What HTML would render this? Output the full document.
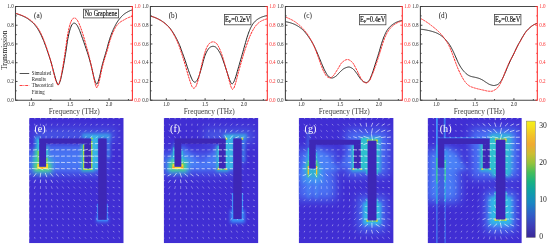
<!DOCTYPE html>
<html><head><meta charset="utf-8"><title>Figure</title>
<style>html,body{margin:0;padding:0;background:#fff}svg{display:block}</style></head>
<body>
<svg width="550" height="248" viewBox="0 0 550 248" style="display:block">
<defs>
<filter id="b1" x="-50%" y="-50%" width="200%" height="200%"><feGaussianBlur stdDeviation="0.6"/></filter>
<filter id="b2" x="-50%" y="-50%" width="200%" height="200%"><feGaussianBlur stdDeviation="1.4"/></filter>
<filter id="b3" x="-50%" y="-50%" width="200%" height="200%"><feGaussianBlur stdDeviation="2.6"/></filter>
<filter id="b5" x="-50%" y="-50%" width="200%" height="200%"><feGaussianBlur stdDeviation="5"/></filter>
<filter id="soft" x="-5%" y="-5%" width="110%" height="110%"><feGaussianBlur stdDeviation="0.35"/></filter>
<linearGradient id="par" x1="0" y1="1" x2="0" y2="0">
<stop offset="0.000" stop-color="rgb(58, 40, 150)"/>
<stop offset="0.100" stop-color="rgb(62, 62, 185)"/>
<stop offset="0.200" stop-color="rgb(48, 95, 200)"/>
<stop offset="0.300" stop-color="rgb(25, 135, 195)"/>
<stop offset="0.400" stop-color="rgb(15, 160, 165)"/>
<stop offset="0.480" stop-color="rgb(25, 178, 130)"/>
<stop offset="0.560" stop-color="rgb(70, 190, 90)"/>
<stop offset="0.640" stop-color="rgb(150, 195, 60)"/>
<stop offset="0.720" stop-color="rgb(205, 190, 50)"/>
<stop offset="0.800" stop-color="rgb(240, 170, 50)"/>
<stop offset="0.880" stop-color="rgb(242, 195, 40)"/>
<stop offset="0.950" stop-color="rgb(245, 225, 30)"/>
<stop offset="1.000" stop-color="rgb(245, 240, 25)"/>
</linearGradient>
<pattern id="arr" width="6.4" height="6.15" patternUnits="userSpaceOnUse" patternTransform="translate(1.5,0.5)"><path d="M2.2,3.6 L4.2,2.9" stroke="#fff" stroke-width="0.75" stroke-opacity="0.62" stroke-linecap="round"/></pattern>
</defs>
<rect width="550" height="248" fill="#fff"/>
<g filter="url(#soft)">
<g>
<path d="M15.60,13.50 L16.09,13.63 L16.58,13.77 L17.07,13.92 L17.55,14.07 L18.04,14.23 L18.53,14.39 L19.02,14.56 L19.51,14.74 L20.00,14.92 L20.49,15.10 L20.98,15.29 L21.46,15.48 L21.95,15.68 L22.44,15.89 L22.93,16.11 L23.42,16.33 L23.91,16.56 L24.40,16.80 L24.89,17.04 L25.37,17.30 L25.86,17.57 L26.35,17.84 L26.84,18.14 L27.33,18.45 L27.82,18.78 L28.31,19.13 L28.79,19.48 L29.28,19.85 L29.77,20.22 L30.26,20.61 L30.75,21.00 L31.24,21.40 L31.73,21.82 L32.22,22.25 L32.70,22.70 L33.19,23.17 L33.68,23.66 L34.17,24.18 L34.66,24.72 L35.15,25.30 L35.64,25.91 L36.13,26.55 L36.61,27.22 L37.10,27.92 L37.59,28.64 L38.08,29.40 L38.57,30.21 L39.06,31.06 L39.55,31.96 L40.04,32.88 L40.52,33.84 L41.01,34.84 L41.50,35.88 L41.99,36.95 L42.48,38.06 L42.97,39.20 L43.46,40.37 L43.94,41.56 L44.43,42.79 L44.92,44.07 L45.41,45.41 L45.90,46.78 L46.39,48.18 L46.88,49.60 L47.37,51.02 L47.85,52.45 L48.34,53.87 L48.83,55.30 L49.32,56.74 L49.81,58.22 L50.30,59.73 L50.79,61.30 L51.28,62.93 L51.76,64.68 L52.25,66.49 L52.74,68.34 L53.23,70.19 L53.72,71.99 L54.21,73.74 L54.70,75.56 L55.18,77.38 L55.67,79.10 L56.16,80.62 L56.65,81.86 L57.14,83.08 L57.63,84.13 L58.12,84.74 L58.61,84.64 L59.09,83.82 L59.58,82.61 L60.07,81.31 L60.56,79.75 L61.05,77.81 L61.54,75.63 L62.03,73.29 L62.52,70.93 L63.00,68.47 L63.49,65.84 L63.98,63.06 L64.47,60.19 L64.96,57.26 L65.45,54.32 L65.94,51.23 L66.43,47.90 L66.91,44.54 L67.40,41.35 L67.89,38.55 L68.38,36.16 L68.87,33.92 L69.36,31.85 L69.85,30.01 L70.33,28.45 L70.82,27.16 L71.31,25.98 L71.80,24.97 L72.29,24.22 L72.78,23.75 L73.27,23.37 L73.76,23.13 L74.24,23.12 L74.73,23.26 L75.22,23.50 L75.71,23.80 L76.20,24.16 L76.69,24.72 L77.18,25.48 L77.67,26.37 L78.15,27.32 L78.64,28.28 L79.13,29.35 L79.62,30.52 L80.11,31.79 L80.60,33.12 L81.09,34.47 L81.57,35.83 L82.06,37.17 L82.55,38.51 L83.04,39.88 L83.53,41.27 L84.02,42.68 L84.51,44.10 L85.00,45.52 L85.48,46.95 L85.97,48.38 L86.46,49.79 L86.95,51.22 L87.44,52.67 L87.93,54.17 L88.42,55.73 L88.91,57.36 L89.39,59.07 L89.88,60.83 L90.37,62.65 L90.86,64.51 L91.35,66.41 L91.84,68.37 L92.33,70.49 L92.82,72.66 L93.30,74.77 L93.79,76.74 L94.28,78.50 L94.77,80.20 L95.26,81.69 L95.75,82.81 L96.24,83.78 L96.72,84.20 L97.21,83.70 L97.70,82.70 L98.19,81.54 L98.68,80.00 L99.17,78.23 L99.66,76.40 L100.15,74.35 L100.63,72.12 L101.12,69.83 L101.61,67.61 L102.10,65.61 L102.59,63.75 L103.08,61.97 L103.57,60.25 L104.06,58.58 L104.54,56.94 L105.03,55.31 L105.52,53.68 L106.01,52.03 L106.50,50.35 L106.99,48.62 L107.48,46.82 L107.96,45.00 L108.45,43.20 L108.94,41.44 L109.43,39.78 L109.92,38.24 L110.41,36.82 L110.90,35.45 L111.39,34.13 L111.87,32.87 L112.36,31.65 L112.85,30.50 L113.34,29.40 L113.83,28.35 L114.32,27.36 L114.81,26.39 L115.30,25.45 L115.78,24.54 L116.27,23.66 L116.76,22.82 L117.25,22.02 L117.74,21.26 L118.23,20.54 L118.72,19.87 L119.21,19.24 L119.69,18.64 L120.18,18.05 L120.67,17.48 L121.16,16.93 L121.65,16.40 L122.14,15.90 L122.63,15.42 L123.11,14.97 L123.60,14.54 L124.09,14.15 L124.58,13.79 L125.07,13.45 L125.56,13.14 L126.05,12.83 L126.54,12.53 L127.02,12.24 L127.51,11.95 L128.00,11.68 L128.49,11.42 L128.98,11.18 L129.47,10.95 L129.96,10.74 L130.45,10.55 L130.93,10.38 L131.42,10.23 L131.91,10.10 L132.40,10.00" fill="none" stroke="#222" stroke-width="1.0"/>
<path d="M15.60,13.30 L16.09,13.42 L16.58,13.55 L17.07,13.69 L17.55,13.83 L18.04,13.98 L18.53,14.14 L19.02,14.30 L19.51,14.47 L20.00,14.64 L20.49,14.81 L20.98,14.99 L21.46,15.18 L21.95,15.37 L22.44,15.57 L22.93,15.77 L23.42,15.99 L23.91,16.21 L24.40,16.44 L24.89,16.68 L25.37,16.92 L25.86,17.17 L26.35,17.44 L26.84,17.71 L27.33,18.00 L27.82,18.30 L28.31,18.62 L28.79,18.95 L29.28,19.29 L29.77,19.63 L30.26,19.99 L30.75,20.36 L31.24,20.74 L31.73,21.14 L32.22,21.55 L32.70,21.97 L33.19,22.42 L33.68,22.88 L34.17,23.37 L34.66,23.89 L35.15,24.44 L35.64,25.02 L36.13,25.64 L36.61,26.28 L37.10,26.94 L37.59,27.63 L38.08,28.36 L38.57,29.13 L39.06,29.94 L39.55,30.80 L40.04,31.69 L40.52,32.63 L41.01,33.61 L41.50,34.64 L41.99,35.71 L42.48,36.82 L42.97,37.97 L43.46,39.15 L43.94,40.36 L44.43,41.60 L44.92,42.89 L45.41,44.23 L45.90,45.61 L46.39,47.04 L46.88,48.49 L47.37,49.97 L47.85,51.48 L48.34,53.01 L48.83,54.57 L49.32,56.17 L49.81,57.81 L50.30,59.50 L50.79,61.23 L51.28,63.03 L51.76,64.95 L52.25,66.95 L52.74,68.98 L53.23,70.99 L53.72,72.93 L54.21,74.78 L54.70,76.67 L55.18,78.53 L55.67,80.24 L56.16,81.67 L56.65,82.84 L57.14,83.97 L57.63,84.78 L58.12,84.98 L58.61,84.44 L59.09,83.39 L59.58,82.09 L60.07,80.68 L60.56,78.82 L61.05,76.57 L61.54,74.07 L62.03,71.46 L62.52,68.83 L63.00,65.99 L63.49,62.96 L63.98,59.78 L64.47,56.53 L64.96,53.26 L65.45,50.01 L65.94,46.56 L66.43,42.98 L66.91,39.48 L67.40,36.26 L67.89,33.53 L68.38,31.07 L68.87,28.78 L69.36,26.70 L69.85,24.89 L70.33,23.41 L70.82,22.10 L71.31,20.91 L71.80,19.92 L72.29,19.20 L72.78,18.78 L73.27,18.44 L73.76,18.17 L74.24,18.02 L74.73,18.02 L75.22,18.21 L75.71,18.53 L76.20,18.94 L76.69,19.38 L77.18,20.01 L77.67,20.82 L78.15,21.75 L78.64,22.75 L79.13,23.78 L79.62,24.89 L80.11,26.11 L80.60,27.41 L81.09,28.79 L81.57,30.22 L82.06,31.68 L82.55,33.16 L83.04,34.69 L83.53,36.30 L84.02,37.97 L84.51,39.68 L85.00,41.41 L85.48,43.16 L85.97,44.90 L86.46,46.64 L86.95,48.37 L87.44,50.12 L87.93,51.90 L88.42,53.73 L88.91,55.63 L89.39,57.59 L89.88,59.63 L90.37,61.72 L90.86,63.87 L91.35,66.05 L91.84,68.26 L92.33,70.52 L92.82,72.91 L93.30,75.33 L93.79,77.69 L94.28,79.92 L94.77,82.09 L95.26,84.19 L95.75,85.86 L96.24,87.16 L96.72,87.80 L97.21,87.27 L97.70,86.22 L98.19,84.96 L98.68,83.27 L99.17,81.34 L99.66,79.36 L100.15,77.19 L100.63,74.82 L101.12,72.40 L101.61,70.02 L102.10,67.82 L102.59,65.87 L103.08,64.03 L103.57,62.29 L104.06,60.61 L104.54,58.98 L105.03,57.39 L105.52,55.82 L106.01,54.26 L106.50,52.67 L106.99,51.06 L107.48,49.39 L107.96,47.67 L108.45,45.91 L108.94,44.16 L109.43,42.44 L109.92,40.80 L110.41,39.27 L110.90,37.85 L111.39,36.50 L111.87,35.21 L112.36,33.99 L112.85,32.84 L113.34,31.73 L113.83,30.65 L114.32,29.60 L114.81,28.60 L115.30,27.68 L115.78,26.87 L116.27,26.16 L116.76,25.52 L117.25,24.93 L117.74,24.38 L118.23,23.86 L118.72,23.39 L119.21,22.95 L119.69,22.54 L120.18,22.16 L120.67,21.82 L121.16,21.50 L121.65,21.20 L122.14,20.92 L122.63,20.65 L123.11,20.39 L123.60,20.13 L124.09,19.86 L124.58,19.59 L125.07,19.31 L125.56,19.03 L126.05,18.76 L126.54,18.50 L127.02,18.25 L127.51,18.01 L128.00,17.80 L128.49,17.60 L128.98,17.40 L129.47,17.22 L129.96,17.04 L130.45,16.87 L130.93,16.71 L131.42,16.56 L131.91,16.42 L132.40,16.30" fill="none" stroke="#f22" stroke-width="1.0" stroke-dasharray="2.4 0.6"/>
<path d="M15.5,6.1 V100.2 H132.4" fill="none" stroke="#484848" stroke-width="1.1"/>
<path d="M15.5,6.5 H132.4" fill="none" stroke="#484848" stroke-width="1.1"/>
<path d="M132.4,6.1 V100.60000000000001" fill="none" stroke="#f22" stroke-width="1.0"/>
<path d="M15.5,100.20 h2.0 M15.5,90.83 h1.2 M15.5,81.46 h2.0 M15.5,72.09 h1.2 M15.5,62.72 h2.0 M15.5,53.35 h1.2 M15.5,43.98 h2.0 M15.5,34.61 h1.2 M15.5,25.24 h2.0 M15.5,15.87 h1.2 M15.5,6.50 h2.0 M31.42,100.2 v-2.0 M50.82,100.2 v-1.2 M70.22,100.2 v-2.0 M89.62,100.2 v-1.2 M109.02,100.2 v-2.0 M128.42,100.2 v-1.2" stroke="#333" stroke-width="0.9" fill="none"/>
<path d="M132.4,100.20 h-2.0 M132.4,90.83 h-1.2 M132.4,81.46 h-2.0 M132.4,72.09 h-1.2 M132.4,62.72 h-2.0 M132.4,53.35 h-1.2 M132.4,43.98 h-2.0 M132.4,34.61 h-1.2 M132.4,25.24 h-2.0 M132.4,15.87 h-1.2 M132.4,6.50 h-2.0" stroke="#f22" stroke-width="0.7" fill="none"/>
<text x="13.7" y="101.50" font-family='"Liberation Serif", serif' font-size="5.1" fill="#333" text-anchor="end">0.0</text>
<text x="134.3" y="101.50" font-family='"Liberation Serif", serif' font-size="5.1" fill="#f33" text-anchor="start">0.0</text>
<text x="13.7" y="82.84" font-family='"Liberation Serif", serif' font-size="5.1" fill="#333" text-anchor="end">0.2</text>
<text x="134.3" y="82.84" font-family='"Liberation Serif", serif' font-size="5.1" fill="#f33" text-anchor="start">0.2</text>
<text x="13.7" y="64.18" font-family='"Liberation Serif", serif' font-size="5.1" fill="#333" text-anchor="end">0.4</text>
<text x="134.3" y="64.18" font-family='"Liberation Serif", serif' font-size="5.1" fill="#f33" text-anchor="start">0.4</text>
<text x="13.7" y="45.52" font-family='"Liberation Serif", serif' font-size="5.1" fill="#333" text-anchor="end">0.6</text>
<text x="134.3" y="45.52" font-family='"Liberation Serif", serif' font-size="5.1" fill="#f33" text-anchor="start">0.6</text>
<text x="13.7" y="26.86" font-family='"Liberation Serif", serif' font-size="5.1" fill="#333" text-anchor="end">0.8</text>
<text x="134.3" y="26.86" font-family='"Liberation Serif", serif' font-size="5.1" fill="#f33" text-anchor="start">0.8</text>
<text x="13.7" y="8.20" font-family='"Liberation Serif", serif' font-size="5.1" fill="#333" text-anchor="end">1.0</text>
<text x="134.3" y="8.20" font-family='"Liberation Serif", serif' font-size="5.1" fill="#f33" text-anchor="start">1.0</text>
<text x="31.42" y="106.10000000000001" font-family='"Liberation Serif", serif' font-size="5.1" fill="#222" text-anchor="middle">1.0</text>
<text x="70.22" y="106.10000000000001" font-family='"Liberation Serif", serif' font-size="5.1" fill="#222" text-anchor="middle">1.5</text>
<text x="109.02" y="106.10000000000001" font-family='"Liberation Serif", serif' font-size="5.1" fill="#222" text-anchor="middle">2.0</text>
<text x="74.30" y="114.0" font-family='"Liberation Serif", serif' font-size="7.4" fill="#444" text-anchor="middle">Frequency (THz)</text>
<text x="38.00" y="17.6" font-family='"Liberation Serif", serif' font-size="7.2" fill="#111" text-anchor="middle">(a)</text>
<rect x="83.4" y="9.2" width="35.2" height="8.7" fill="#fff" stroke="#444" stroke-width="0.8"/>
<text transform="translate(101.0,16.05) scale(0.845,1)" font-family='"Liberation Serif", serif' font-size="7.2" fill="#111" stroke="#111" stroke-width="0.15" text-anchor="middle">No Graphene</text>
</g>
<g>
<path d="M150.60,16.10 L151.09,16.24 L151.57,16.38 L152.06,16.54 L152.55,16.70 L153.04,16.86 L153.52,17.04 L154.01,17.21 L154.50,17.40 L154.98,17.59 L155.47,17.78 L155.96,17.98 L156.44,18.19 L156.93,18.40 L157.42,18.62 L157.91,18.85 L158.39,19.09 L158.88,19.33 L159.37,19.59 L159.85,19.85 L160.34,20.12 L160.83,20.40 L161.31,20.69 L161.80,20.99 L162.29,21.31 L162.78,21.64 L163.26,21.98 L163.75,22.34 L164.24,22.70 L164.72,23.08 L165.21,23.47 L165.70,23.87 L166.18,24.28 L166.67,24.70 L167.16,25.14 L167.65,25.60 L168.13,26.08 L168.62,26.58 L169.11,27.11 L169.59,27.68 L170.08,28.29 L170.57,28.94 L171.06,29.63 L171.54,30.33 L172.03,31.04 L172.52,31.77 L173.00,32.52 L173.49,33.30 L173.98,34.09 L174.46,34.91 L174.95,35.76 L175.44,36.63 L175.93,37.51 L176.41,38.42 L176.90,39.35 L177.39,40.31 L177.87,41.30 L178.36,42.33 L178.85,43.40 L179.33,44.52 L179.82,45.73 L180.31,47.02 L180.80,48.36 L181.28,49.74 L181.77,51.11 L182.26,52.45 L182.74,53.78 L183.23,55.10 L183.72,56.42 L184.21,57.76 L184.69,59.12 L185.18,60.52 L185.67,61.97 L186.15,63.45 L186.64,64.95 L187.13,66.44 L187.61,67.89 L188.10,69.29 L188.59,70.67 L189.08,72.04 L189.56,73.38 L190.05,74.68 L190.54,75.91 L191.02,77.05 L191.51,78.19 L192.00,79.31 L192.48,80.28 L192.97,80.97 L193.46,81.45 L193.95,81.86 L194.43,82.13 L194.92,82.19 L195.41,82.02 L195.89,81.67 L196.38,81.22 L196.87,80.69 L197.35,79.89 L197.84,78.87 L198.33,77.71 L198.82,76.47 L199.30,75.19 L199.79,73.72 L200.28,72.10 L200.76,70.39 L201.25,68.64 L201.74,66.91 L202.23,65.21 L202.71,63.42 L203.20,61.57 L203.69,59.73 L204.17,57.99 L204.66,56.44 L205.15,55.13 L205.63,53.94 L206.12,52.84 L206.61,51.82 L207.10,50.91 L207.58,50.10 L208.07,49.41 L208.56,48.78 L209.04,48.20 L209.53,47.69 L210.02,47.28 L210.50,47.00 L210.99,46.79 L211.48,46.60 L211.97,46.45 L212.45,46.35 L212.94,46.30 L213.43,46.33 L213.91,46.42 L214.40,46.56 L214.89,46.74 L215.37,46.94 L215.86,47.22 L216.35,47.66 L216.84,48.22 L217.32,48.87 L217.81,49.54 L218.30,50.21 L218.78,50.94 L219.27,51.73 L219.76,52.58 L220.25,53.48 L220.73,54.45 L221.22,55.48 L221.71,56.63 L222.19,57.89 L222.68,59.23 L223.17,60.62 L223.65,62.02 L224.14,63.40 L224.63,64.82 L225.12,66.27 L225.60,67.75 L226.09,69.23 L226.58,70.72 L227.06,72.19 L227.55,73.70 L228.04,75.24 L228.52,76.75 L229.01,78.19 L229.50,79.50 L229.99,80.73 L230.47,81.87 L230.96,82.74 L231.45,83.41 L231.93,83.86 L232.42,83.79 L232.91,83.30 L233.39,82.67 L233.88,81.79 L234.37,80.65 L234.86,79.38 L235.34,78.05 L235.83,76.55 L236.32,74.92 L236.80,73.22 L237.29,71.48 L237.78,69.76 L238.27,68.10 L238.75,66.43 L239.24,64.75 L239.73,63.07 L240.21,61.37 L240.70,59.67 L241.19,57.97 L241.67,56.26 L242.16,54.55 L242.65,52.83 L243.14,51.11 L243.62,49.37 L244.11,47.63 L244.60,45.90 L245.08,44.21 L245.57,42.51 L246.06,40.80 L246.54,39.11 L247.03,37.47 L247.52,35.92 L248.01,34.48 L248.49,33.14 L248.98,31.84 L249.47,30.60 L249.95,29.43 L250.44,28.33 L250.93,27.33 L251.42,26.42 L251.90,25.55 L252.39,24.74 L252.88,23.99 L253.36,23.30 L253.85,22.68 L254.34,22.12 L254.82,21.60 L255.31,21.12 L255.80,20.67 L256.29,20.26 L256.77,19.88 L257.26,19.53 L257.75,19.20 L258.23,18.89 L258.72,18.59 L259.21,18.31 L259.69,18.04 L260.18,17.79 L260.67,17.56 L261.16,17.34 L261.64,17.14 L262.13,16.95 L262.62,16.78 L263.10,16.61 L263.59,16.44 L264.08,16.29 L264.56,16.15 L265.05,16.01 L265.54,15.89 L266.03,15.78 L266.51,15.68 L267.00,15.60" fill="none" stroke="#222" stroke-width="1.0"/>
<path d="M150.60,16.10 L151.09,16.23 L151.57,16.37 L152.06,16.52 L152.55,16.67 L153.04,16.84 L153.52,17.01 L154.01,17.19 L154.50,17.38 L154.98,17.58 L155.47,17.78 L155.96,17.98 L156.44,18.20 L156.93,18.42 L157.42,18.66 L157.91,18.91 L158.39,19.17 L158.88,19.44 L159.37,19.72 L159.85,20.00 L160.34,20.29 L160.83,20.59 L161.31,20.90 L161.80,21.21 L162.29,21.54 L162.78,21.88 L163.26,22.24 L163.75,22.60 L164.24,22.98 L164.72,23.37 L165.21,23.78 L165.70,24.20 L166.18,24.63 L166.67,25.08 L167.16,25.55 L167.65,26.04 L168.13,26.55 L168.62,27.08 L169.11,27.62 L169.59,28.20 L170.08,28.81 L170.57,29.45 L171.06,30.12 L171.54,30.82 L172.03,31.54 L172.52,32.31 L173.00,33.12 L173.49,33.97 L173.98,34.85 L174.46,35.77 L174.95,36.71 L175.44,37.67 L175.93,38.67 L176.41,39.69 L176.90,40.75 L177.39,41.85 L177.87,42.98 L178.36,44.16 L178.85,45.38 L179.33,46.67 L179.82,48.03 L180.31,49.44 L180.80,50.88 L181.28,52.35 L181.77,53.81 L182.26,55.30 L182.74,56.82 L183.23,58.36 L183.72,59.93 L184.21,61.52 L184.69,63.14 L185.18,64.82 L185.67,66.55 L186.15,68.29 L186.64,70.03 L187.13,71.73 L187.61,73.38 L188.10,75.03 L188.59,76.66 L189.08,78.27 L189.56,79.82 L190.05,81.28 L190.54,82.68 L191.02,84.10 L191.51,85.44 L192.00,86.53 L192.48,87.23 L192.97,87.81 L193.46,88.20 L193.95,88.29 L194.43,88.06 L194.92,87.64 L195.41,87.11 L195.89,86.41 L196.38,85.37 L196.87,84.05 L197.35,82.56 L197.84,81.01 L198.33,79.39 L198.82,77.53 L199.30,75.48 L199.79,73.33 L200.28,71.14 L200.76,69.00 L201.25,66.94 L201.74,64.82 L202.23,62.66 L202.71,60.53 L203.20,58.50 L203.69,56.61 L204.17,54.92 L204.66,53.30 L205.15,51.74 L205.63,50.27 L206.12,48.94 L206.61,47.78 L207.10,46.83 L207.58,45.98 L208.07,45.19 L208.56,44.47 L209.04,43.86 L209.53,43.36 L210.02,42.99 L210.50,42.69 L210.99,42.42 L211.48,42.18 L211.97,41.99 L212.45,41.86 L212.94,41.80 L213.43,41.83 L213.91,41.94 L214.40,42.12 L214.89,42.35 L215.37,42.62 L215.86,42.91 L216.35,43.27 L216.84,43.81 L217.32,44.50 L217.81,45.31 L218.30,46.18 L218.78,47.09 L219.27,48.03 L219.76,49.08 L220.25,50.24 L220.73,51.49 L221.22,52.80 L221.71,54.16 L222.19,55.56 L222.68,57.06 L223.17,58.64 L223.65,60.29 L224.14,61.99 L224.63,63.70 L225.12,65.40 L225.60,67.14 L226.09,68.91 L226.58,70.71 L227.06,72.52 L227.55,74.34 L228.04,76.14 L228.52,77.98 L229.01,79.85 L229.50,81.69 L229.99,83.45 L230.47,85.07 L230.96,86.70 L231.45,88.02 L231.93,88.82 L232.42,89.29 L232.91,89.15 L233.39,88.67 L233.88,88.02 L234.37,86.89 L234.86,85.41 L235.34,83.87 L235.83,82.25 L236.32,80.47 L236.80,78.59 L237.29,76.66 L237.78,74.73 L238.27,72.86 L238.75,71.09 L239.24,69.33 L239.73,67.58 L240.21,65.84 L240.70,64.11 L241.19,62.40 L241.67,60.70 L242.16,59.03 L242.65,57.37 L243.14,55.75 L243.62,54.15 L244.11,52.59 L244.60,51.06 L245.08,49.57 L245.57,48.11 L246.06,46.69 L246.54,45.29 L247.03,43.91 L247.52,42.54 L248.01,41.17 L248.49,39.82 L248.98,38.52 L249.47,37.27 L249.95,36.11 L250.44,35.01 L250.93,33.96 L251.42,32.96 L251.90,32.00 L252.39,31.08 L252.88,30.21 L253.36,29.38 L253.85,28.58 L254.34,27.80 L254.82,27.07 L255.31,26.38 L255.80,25.74 L256.29,25.17 L256.77,24.62 L257.26,24.10 L257.75,23.62 L258.23,23.16 L258.72,22.75 L259.21,22.37 L259.69,22.02 L260.18,21.70 L260.67,21.39 L261.16,21.11 L261.64,20.84 L262.13,20.59 L262.62,20.37 L263.10,20.16 L263.59,19.96 L264.08,19.77 L264.56,19.59 L265.05,19.42 L265.54,19.27 L266.03,19.13 L266.51,19.01 L267.00,18.90" fill="none" stroke="#f22" stroke-width="1.0" stroke-dasharray="2.4 0.6"/>
<path d="M150.4,6.1 V100.2 H267.3" fill="none" stroke="#484848" stroke-width="1.1"/>
<path d="M150.4,6.5 H267.3" fill="none" stroke="#484848" stroke-width="1.1"/>
<path d="M267.3,6.1 V100.60000000000001" fill="none" stroke="#f22" stroke-width="1.0"/>
<path d="M150.4,100.20 h2.0 M150.4,90.83 h1.2 M150.4,81.46 h2.0 M150.4,72.09 h1.2 M150.4,62.72 h2.0 M150.4,53.35 h1.2 M150.4,43.98 h2.0 M150.4,34.61 h1.2 M150.4,25.24 h2.0 M150.4,15.87 h1.2 M150.4,6.50 h2.0 M166.32,100.2 v-2.0 M185.72,100.2 v-1.2 M205.12,100.2 v-2.0 M224.52,100.2 v-1.2 M243.92,100.2 v-2.0 M263.32,100.2 v-1.2" stroke="#333" stroke-width="0.9" fill="none"/>
<path d="M267.3,100.20 h-2.0 M267.3,90.83 h-1.2 M267.3,81.46 h-2.0 M267.3,72.09 h-1.2 M267.3,62.72 h-2.0 M267.3,53.35 h-1.2 M267.3,43.98 h-2.0 M267.3,34.61 h-1.2 M267.3,25.24 h-2.0 M267.3,15.87 h-1.2 M267.3,6.50 h-2.0" stroke="#f22" stroke-width="0.7" fill="none"/>
<text x="148.6" y="101.50" font-family='"Liberation Serif", serif' font-size="5.1" fill="#333" text-anchor="end">0.0</text>
<text x="269.2" y="101.50" font-family='"Liberation Serif", serif' font-size="5.1" fill="#f33" text-anchor="start">0.0</text>
<text x="148.6" y="82.84" font-family='"Liberation Serif", serif' font-size="5.1" fill="#333" text-anchor="end">0.2</text>
<text x="269.2" y="82.84" font-family='"Liberation Serif", serif' font-size="5.1" fill="#f33" text-anchor="start">0.2</text>
<text x="148.6" y="64.18" font-family='"Liberation Serif", serif' font-size="5.1" fill="#333" text-anchor="end">0.4</text>
<text x="269.2" y="64.18" font-family='"Liberation Serif", serif' font-size="5.1" fill="#f33" text-anchor="start">0.4</text>
<text x="148.6" y="45.52" font-family='"Liberation Serif", serif' font-size="5.1" fill="#333" text-anchor="end">0.6</text>
<text x="269.2" y="45.52" font-family='"Liberation Serif", serif' font-size="5.1" fill="#f33" text-anchor="start">0.6</text>
<text x="148.6" y="26.86" font-family='"Liberation Serif", serif' font-size="5.1" fill="#333" text-anchor="end">0.8</text>
<text x="269.2" y="26.86" font-family='"Liberation Serif", serif' font-size="5.1" fill="#f33" text-anchor="start">0.8</text>
<text x="148.6" y="8.20" font-family='"Liberation Serif", serif' font-size="5.1" fill="#333" text-anchor="end">1.0</text>
<text x="269.2" y="8.20" font-family='"Liberation Serif", serif' font-size="5.1" fill="#f33" text-anchor="start">1.0</text>
<text x="166.32" y="106.10000000000001" font-family='"Liberation Serif", serif' font-size="5.1" fill="#222" text-anchor="middle">1.0</text>
<text x="205.12" y="106.10000000000001" font-family='"Liberation Serif", serif' font-size="5.1" fill="#222" text-anchor="middle">1.5</text>
<text x="243.92" y="106.10000000000001" font-family='"Liberation Serif", serif' font-size="5.1" fill="#222" text-anchor="middle">2.0</text>
<text x="209.20" y="114.0" font-family='"Liberation Serif", serif' font-size="7.4" fill="#444" text-anchor="middle">Frequency (THz)</text>
<text x="172.90" y="17.6" font-family='"Liberation Serif", serif' font-size="7.2" fill="#111" text-anchor="middle">(b)</text>
<rect x="224.40" y="14.4" width="26.5" height="10.4" fill="#fff" stroke="#444" stroke-width="0.8"/>
<text transform="translate(237.65,21.9) scale(0.87,1)" font-family='"Liberation Serif", serif' font-size="7.4" fill="#111" stroke="#111" stroke-width="0.15" text-anchor="middle">E<tspan font-size="4.8" dy="1.3">F</tspan><tspan dy="-1.3">=0.2eV</tspan></text>
</g>
<g>
<path d="M285.60,21.70 L286.09,21.78 L286.57,21.88 L287.06,21.97 L287.55,22.08 L288.04,22.19 L288.52,22.31 L289.01,22.43 L289.50,22.56 L289.98,22.70 L290.47,22.83 L290.96,22.98 L291.44,23.14 L291.93,23.30 L292.42,23.48 L292.91,23.66 L293.39,23.85 L293.88,24.05 L294.37,24.26 L294.85,24.48 L295.34,24.72 L295.83,24.96 L296.31,25.22 L296.80,25.49 L297.29,25.77 L297.78,26.06 L298.26,26.36 L298.75,26.67 L299.24,27.00 L299.72,27.34 L300.21,27.69 L300.70,28.05 L301.18,28.44 L301.67,28.84 L302.16,29.25 L302.65,29.69 L303.13,30.17 L303.62,30.67 L304.11,31.20 L304.59,31.74 L305.08,32.29 L305.57,32.87 L306.06,33.47 L306.54,34.09 L307.03,34.73 L307.52,35.39 L308.00,36.06 L308.49,36.75 L308.98,37.45 L309.46,38.15 L309.95,38.87 L310.44,39.61 L310.93,40.36 L311.41,41.13 L311.90,41.93 L312.39,42.76 L312.87,43.61 L313.36,44.50 L313.85,45.43 L314.33,46.42 L314.82,47.45 L315.31,48.51 L315.80,49.60 L316.28,50.70 L316.77,51.82 L317.26,52.94 L317.74,54.07 L318.23,55.22 L318.72,56.41 L319.21,57.62 L319.69,58.83 L320.18,60.03 L320.67,61.21 L321.15,62.36 L321.64,63.52 L322.13,64.69 L322.61,65.86 L323.10,67.00 L323.59,68.12 L324.08,69.18 L324.56,70.17 L325.05,71.09 L325.54,71.98 L326.02,72.86 L326.51,73.72 L327.00,74.51 L327.48,75.22 L327.97,75.82 L328.46,76.27 L328.95,76.63 L329.43,76.97 L329.92,77.28 L330.41,77.55 L330.89,77.77 L331.38,77.93 L331.87,78.00 L332.35,77.98 L332.84,77.87 L333.33,77.70 L333.82,77.48 L334.30,77.21 L334.79,76.93 L335.28,76.63 L335.76,76.33 L336.25,75.95 L336.74,75.50 L337.23,75.00 L337.71,74.47 L338.20,73.91 L338.69,73.36 L339.17,72.82 L339.66,72.32 L340.15,71.87 L340.63,71.41 L341.12,70.95 L341.61,70.48 L342.10,70.03 L342.58,69.60 L343.07,69.20 L343.56,68.84 L344.04,68.53 L344.53,68.29 L345.02,68.07 L345.50,67.86 L345.99,67.66 L346.48,67.47 L346.97,67.31 L347.45,67.18 L347.94,67.07 L348.43,67.01 L348.91,67.00 L349.40,67.06 L349.89,67.18 L350.37,67.36 L350.86,67.58 L351.35,67.83 L351.84,68.11 L352.32,68.39 L352.81,68.71 L353.30,69.11 L353.78,69.59 L354.27,70.14 L354.76,70.73 L355.25,71.36 L355.73,72.00 L356.22,72.64 L356.71,73.27 L357.19,73.95 L357.68,74.69 L358.17,75.45 L358.65,76.22 L359.14,76.98 L359.63,77.69 L360.12,78.34 L360.60,78.91 L361.09,79.46 L361.58,79.99 L362.06,80.50 L362.55,80.96 L363.04,81.36 L363.52,81.67 L364.01,81.89 L364.50,82.09 L364.99,82.26 L365.47,82.40 L365.96,82.48 L366.45,82.49 L366.93,82.37 L367.42,82.12 L367.91,81.78 L368.39,81.37 L368.88,80.92 L369.37,80.27 L369.86,79.37 L370.34,78.28 L370.83,77.07 L371.32,75.79 L371.80,74.50 L372.29,73.24 L372.78,71.87 L373.27,70.42 L373.75,68.91 L374.24,67.38 L374.73,65.85 L375.21,64.34 L375.70,62.84 L376.19,61.33 L376.67,59.81 L377.16,58.28 L377.65,56.73 L378.14,55.17 L378.62,53.60 L379.11,51.98 L379.60,50.30 L380.08,48.61 L380.57,46.92 L381.06,45.25 L381.54,43.64 L382.03,42.10 L382.52,40.66 L383.01,39.28 L383.49,37.97 L383.98,36.73 L384.47,35.57 L384.95,34.48 L385.44,33.42 L385.93,32.41 L386.42,31.47 L386.90,30.62 L387.39,29.87 L387.88,29.19 L388.36,28.56 L388.85,27.98 L389.34,27.43 L389.82,26.91 L390.31,26.43 L390.80,25.98 L391.29,25.55 L391.77,25.15 L392.26,24.77 L392.75,24.41 L393.23,24.07 L393.72,23.75 L394.21,23.45 L394.69,23.17 L395.18,22.90 L395.67,22.64 L396.16,22.39 L396.64,22.16 L397.13,21.94 L397.62,21.74 L398.10,21.56 L398.59,21.40 L399.08,21.24 L399.56,21.08 L400.05,20.94 L400.54,20.81 L401.03,20.69 L401.51,20.59 L402.00,20.50" fill="none" stroke="#222" stroke-width="1.0"/>
<path d="M285.60,17.10 L286.09,17.29 L286.57,17.48 L287.06,17.69 L287.55,17.89 L288.04,18.10 L288.52,18.32 L289.01,18.54 L289.50,18.76 L289.98,18.99 L290.47,19.22 L290.96,19.46 L291.44,19.70 L291.93,19.95 L292.42,20.20 L292.91,20.47 L293.39,20.74 L293.88,21.03 L294.37,21.33 L294.85,21.65 L295.34,21.98 L295.83,22.33 L296.31,22.69 L296.80,23.06 L297.29,23.43 L297.78,23.82 L298.26,24.21 L298.75,24.61 L299.24,25.03 L299.72,25.45 L300.21,25.89 L300.70,26.34 L301.18,26.80 L301.67,27.27 L302.16,27.76 L302.65,28.27 L303.13,28.80 L303.62,29.35 L304.11,29.92 L304.59,30.50 L305.08,31.10 L305.57,31.71 L306.06,32.33 L306.54,32.98 L307.03,33.64 L307.52,34.33 L308.00,35.05 L308.49,35.81 L308.98,36.58 L309.46,37.39 L309.95,38.22 L310.44,39.07 L310.93,39.96 L311.41,40.86 L311.90,41.80 L312.39,42.76 L312.87,43.74 L313.36,44.76 L313.85,45.83 L314.33,46.95 L314.82,48.11 L315.31,49.30 L315.80,50.51 L316.28,51.75 L316.77,53.00 L317.26,54.31 L317.74,55.67 L318.23,57.05 L318.72,58.44 L319.21,59.82 L319.69,61.17 L320.18,62.48 L320.67,63.82 L321.15,65.17 L321.64,66.52 L322.13,67.82 L322.61,69.05 L323.10,70.17 L323.59,71.17 L324.08,72.12 L324.56,73.05 L325.05,73.93 L325.54,74.74 L326.02,75.46 L326.51,76.05 L327.00,76.50 L327.48,76.86 L327.97,77.20 L328.46,77.51 L328.95,77.75 L329.43,77.92 L329.92,78.00 L330.41,77.94 L330.89,77.74 L331.38,77.42 L331.87,77.03 L332.35,76.59 L332.84,76.14 L333.33,75.68 L333.82,75.13 L334.30,74.49 L334.79,73.79 L335.28,73.03 L335.76,72.25 L336.25,71.46 L336.74,70.67 L337.23,69.91 L337.71,69.18 L338.20,68.40 L338.69,67.58 L339.17,66.73 L339.66,65.88 L340.15,65.05 L340.63,64.26 L341.12,63.53 L341.61,62.89 L342.10,62.35 L342.58,61.94 L343.07,61.57 L343.56,61.22 L344.04,60.88 L344.53,60.56 L345.02,60.27 L345.50,60.02 L345.99,59.81 L346.48,59.65 L346.97,59.54 L347.45,59.50 L347.94,59.53 L348.43,59.65 L348.91,59.83 L349.40,60.07 L349.89,60.37 L350.37,60.70 L350.86,61.07 L351.35,61.46 L351.84,61.86 L352.32,62.30 L352.81,62.88 L353.30,63.57 L353.78,64.37 L354.27,65.23 L354.76,66.15 L355.25,67.10 L355.73,68.05 L356.22,68.98 L356.71,69.88 L357.19,70.84 L357.68,71.85 L358.17,72.89 L358.65,73.93 L359.14,74.96 L359.63,75.94 L360.12,76.85 L360.60,77.67 L361.09,78.47 L361.58,79.27 L362.06,80.04 L362.55,80.74 L363.04,81.34 L363.52,81.81 L364.01,82.13 L364.50,82.41 L364.99,82.66 L365.47,82.85 L365.96,82.97 L366.45,82.99 L366.93,82.87 L367.42,82.61 L367.91,82.27 L368.39,81.86 L368.88,81.42 L369.37,80.83 L369.86,80.03 L370.34,79.08 L370.83,78.00 L371.32,76.85 L371.80,75.67 L372.29,74.49 L372.78,73.34 L373.27,72.13 L373.75,70.85 L374.24,69.52 L374.73,68.15 L375.21,66.76 L375.70,65.36 L376.19,63.96 L376.67,62.53 L377.16,61.07 L377.65,59.58 L378.14,58.08 L378.62,56.57 L379.11,55.05 L379.60,53.54 L380.08,52.04 L380.57,50.51 L381.06,48.94 L381.54,47.35 L382.03,45.77 L382.52,44.20 L383.01,42.68 L383.49,41.22 L383.98,39.85 L384.47,38.57 L384.95,37.36 L385.44,36.22 L385.93,35.15 L386.42,34.16 L386.90,33.25 L387.39,32.39 L387.88,31.58 L388.36,30.82 L388.85,30.11 L389.34,29.45 L389.82,28.83 L390.31,28.24 L390.80,27.68 L391.29,27.16 L391.77,26.67 L392.26,26.21 L392.75,25.79 L393.23,25.41 L393.72,25.05 L394.21,24.71 L394.69,24.39 L395.18,24.07 L395.67,23.77 L396.16,23.46 L396.64,23.16 L397.13,22.88 L397.62,22.61 L398.10,22.37 L398.59,22.16 L399.08,21.97 L399.56,21.79 L400.05,21.62 L400.54,21.46 L401.03,21.32 L401.51,21.20 L402.00,21.10" fill="none" stroke="#f22" stroke-width="1.0" stroke-dasharray="2.4 0.6"/>
<path d="M285.4,6.1 V100.2 H402.29999999999995" fill="none" stroke="#484848" stroke-width="1.1"/>
<path d="M285.4,6.5 H402.29999999999995" fill="none" stroke="#484848" stroke-width="1.1"/>
<path d="M402.29999999999995,6.1 V100.60000000000001" fill="none" stroke="#f22" stroke-width="1.0"/>
<path d="M285.4,100.20 h2.0 M285.4,90.83 h1.2 M285.4,81.46 h2.0 M285.4,72.09 h1.2 M285.4,62.72 h2.0 M285.4,53.35 h1.2 M285.4,43.98 h2.0 M285.4,34.61 h1.2 M285.4,25.24 h2.0 M285.4,15.87 h1.2 M285.4,6.50 h2.0 M301.32,100.2 v-2.0 M320.72,100.2 v-1.2 M340.12,100.2 v-2.0 M359.52,100.2 v-1.2 M378.92,100.2 v-2.0 M398.32,100.2 v-1.2" stroke="#333" stroke-width="0.9" fill="none"/>
<path d="M402.29999999999995,100.20 h-2.0 M402.29999999999995,90.83 h-1.2 M402.29999999999995,81.46 h-2.0 M402.29999999999995,72.09 h-1.2 M402.29999999999995,62.72 h-2.0 M402.29999999999995,53.35 h-1.2 M402.29999999999995,43.98 h-2.0 M402.29999999999995,34.61 h-1.2 M402.29999999999995,25.24 h-2.0 M402.29999999999995,15.87 h-1.2 M402.29999999999995,6.50 h-2.0" stroke="#f22" stroke-width="0.7" fill="none"/>
<text x="283.59999999999997" y="101.50" font-family='"Liberation Serif", serif' font-size="5.1" fill="#333" text-anchor="end">0.0</text>
<text x="404.19999999999993" y="101.50" font-family='"Liberation Serif", serif' font-size="5.1" fill="#f33" text-anchor="start">0.0</text>
<text x="283.59999999999997" y="82.84" font-family='"Liberation Serif", serif' font-size="5.1" fill="#333" text-anchor="end">0.2</text>
<text x="404.19999999999993" y="82.84" font-family='"Liberation Serif", serif' font-size="5.1" fill="#f33" text-anchor="start">0.2</text>
<text x="283.59999999999997" y="64.18" font-family='"Liberation Serif", serif' font-size="5.1" fill="#333" text-anchor="end">0.4</text>
<text x="404.19999999999993" y="64.18" font-family='"Liberation Serif", serif' font-size="5.1" fill="#f33" text-anchor="start">0.4</text>
<text x="283.59999999999997" y="45.52" font-family='"Liberation Serif", serif' font-size="5.1" fill="#333" text-anchor="end">0.6</text>
<text x="404.19999999999993" y="45.52" font-family='"Liberation Serif", serif' font-size="5.1" fill="#f33" text-anchor="start">0.6</text>
<text x="283.59999999999997" y="26.86" font-family='"Liberation Serif", serif' font-size="5.1" fill="#333" text-anchor="end">0.8</text>
<text x="404.19999999999993" y="26.86" font-family='"Liberation Serif", serif' font-size="5.1" fill="#f33" text-anchor="start">0.8</text>
<text x="283.59999999999997" y="8.20" font-family='"Liberation Serif", serif' font-size="5.1" fill="#333" text-anchor="end">1.0</text>
<text x="404.19999999999993" y="8.20" font-family='"Liberation Serif", serif' font-size="5.1" fill="#f33" text-anchor="start">1.0</text>
<text x="301.32" y="106.10000000000001" font-family='"Liberation Serif", serif' font-size="5.1" fill="#222" text-anchor="middle">1.0</text>
<text x="340.12" y="106.10000000000001" font-family='"Liberation Serif", serif' font-size="5.1" fill="#222" text-anchor="middle">1.5</text>
<text x="378.92" y="106.10000000000001" font-family='"Liberation Serif", serif' font-size="5.1" fill="#222" text-anchor="middle">2.0</text>
<text x="344.20" y="114.0" font-family='"Liberation Serif", serif' font-size="7.4" fill="#444" text-anchor="middle">Frequency (THz)</text>
<text x="307.90" y="17.6" font-family='"Liberation Serif", serif' font-size="7.2" fill="#111" text-anchor="middle">(c)</text>
<rect x="359.40" y="14.4" width="26.5" height="10.4" fill="#fff" stroke="#444" stroke-width="0.8"/>
<text transform="translate(372.65,21.9) scale(0.87,1)" font-family='"Liberation Serif", serif' font-size="7.4" fill="#111" stroke="#111" stroke-width="0.15" text-anchor="middle">E<tspan font-size="4.8" dy="1.3">F</tspan><tspan dy="-1.3">=0.4eV</tspan></text>
</g>
<g>
<path d="M420.60,29.20 L421.09,29.25 L421.57,29.31 L422.06,29.37 L422.55,29.43 L423.04,29.50 L423.52,29.57 L424.01,29.64 L424.50,29.72 L424.98,29.80 L425.47,29.88 L425.96,29.97 L426.44,30.06 L426.93,30.15 L427.42,30.25 L427.91,30.35 L428.39,30.46 L428.88,30.57 L429.37,30.69 L429.85,30.81 L430.34,30.93 L430.83,31.06 L431.31,31.20 L431.80,31.34 L432.29,31.48 L432.78,31.63 L433.26,31.78 L433.75,31.94 L434.24,32.10 L434.72,32.27 L435.21,32.44 L435.70,32.62 L436.18,32.81 L436.67,33.01 L437.16,33.23 L437.65,33.46 L438.13,33.70 L438.62,33.97 L439.11,34.25 L439.59,34.54 L440.08,34.85 L440.57,35.18 L441.06,35.53 L441.54,35.90 L442.03,36.29 L442.52,36.69 L443.00,37.11 L443.49,37.56 L443.98,38.03 L444.46,38.52 L444.95,39.04 L445.44,39.57 L445.93,40.12 L446.41,40.67 L446.90,41.23 L447.39,41.81 L447.87,42.41 L448.36,43.04 L448.85,43.70 L449.33,44.40 L449.82,45.15 L450.31,45.96 L450.80,46.80 L451.28,47.69 L451.77,48.60 L452.26,49.53 L452.74,50.48 L453.23,51.49 L453.72,52.54 L454.21,53.61 L454.69,54.70 L455.18,55.79 L455.67,56.87 L456.15,57.97 L456.64,59.10 L457.13,60.23 L457.61,61.34 L458.10,62.40 L458.59,63.39 L459.08,64.31 L459.56,65.19 L460.05,66.03 L460.54,66.83 L461.02,67.59 L461.51,68.31 L462.00,69.00 L462.48,69.64 L462.97,70.26 L463.46,70.85 L463.95,71.40 L464.43,71.93 L464.92,72.42 L465.41,72.89 L465.89,73.35 L466.38,73.79 L466.87,74.20 L467.35,74.57 L467.84,74.90 L468.33,75.19 L468.82,75.46 L469.30,75.71 L469.79,75.94 L470.28,76.14 L470.76,76.33 L471.25,76.49 L471.74,76.62 L472.23,76.74 L472.71,76.84 L473.20,76.94 L473.69,77.03 L474.17,77.12 L474.66,77.22 L475.15,77.33 L475.63,77.45 L476.12,77.56 L476.61,77.68 L477.10,77.80 L477.58,77.93 L478.07,78.07 L478.56,78.22 L479.04,78.38 L479.53,78.57 L480.02,78.77 L480.50,78.99 L480.99,79.22 L481.48,79.46 L481.97,79.71 L482.45,79.97 L482.94,80.25 L483.43,80.56 L483.91,80.88 L484.40,81.22 L484.89,81.56 L485.37,81.90 L485.86,82.22 L486.35,82.53 L486.84,82.84 L487.32,83.15 L487.81,83.46 L488.30,83.77 L488.78,84.05 L489.27,84.30 L489.76,84.51 L490.25,84.68 L490.73,84.85 L491.22,85.01 L491.71,85.15 L492.19,85.28 L492.68,85.39 L493.17,85.46 L493.65,85.50 L494.14,85.49 L494.63,85.44 L495.12,85.35 L495.60,85.24 L496.09,85.10 L496.58,84.94 L497.06,84.78 L497.55,84.56 L498.04,84.26 L498.52,83.90 L499.01,83.48 L499.50,83.01 L499.99,82.51 L500.47,81.93 L500.96,81.23 L501.45,80.42 L501.93,79.54 L502.42,78.62 L502.91,77.68 L503.39,76.71 L503.88,75.67 L504.37,74.57 L504.86,73.42 L505.34,72.26 L505.83,71.10 L506.32,69.96 L506.80,68.82 L507.29,67.66 L507.78,66.50 L508.27,65.33 L508.75,64.19 L509.24,63.08 L509.73,62.01 L510.21,60.97 L510.70,59.95 L511.19,58.96 L511.67,57.98 L512.16,57.00 L512.65,56.03 L513.14,55.07 L513.62,54.09 L514.11,53.10 L514.60,52.10 L515.08,51.07 L515.57,50.03 L516.06,48.98 L516.54,47.94 L517.03,46.93 L517.52,45.96 L518.01,45.03 L518.49,44.13 L518.98,43.24 L519.47,42.38 L519.95,41.52 L520.44,40.66 L520.93,39.80 L521.42,38.93 L521.90,38.07 L522.39,37.22 L522.88,36.40 L523.36,35.60 L523.85,34.81 L524.34,34.03 L524.82,33.27 L525.31,32.54 L525.80,31.85 L526.29,31.22 L526.77,30.64 L527.26,30.11 L527.75,29.60 L528.23,29.12 L528.72,28.66 L529.21,28.21 L529.69,27.77 L530.18,27.34 L530.67,26.92 L531.16,26.53 L531.64,26.16 L532.13,25.81 L532.62,25.48 L533.10,25.17 L533.59,24.88 L534.08,24.61 L534.56,24.37 L535.05,24.14 L535.54,23.93 L536.03,23.73 L536.51,23.56 L537.00,23.40" fill="none" stroke="#222" stroke-width="1.0"/>
<path d="M420.60,18.50 L421.09,18.75 L421.57,19.01 L422.06,19.28 L422.55,19.55 L423.04,19.83 L423.52,20.11 L424.01,20.40 L424.50,20.69 L424.98,20.99 L425.47,21.29 L425.96,21.61 L426.44,21.93 L426.93,22.25 L427.42,22.58 L427.91,22.92 L428.39,23.27 L428.88,23.61 L429.37,23.97 L429.85,24.33 L430.34,24.70 L430.83,25.08 L431.31,25.46 L431.80,25.84 L432.29,26.23 L432.78,26.62 L433.26,27.01 L433.75,27.40 L434.24,27.79 L434.72,28.19 L435.21,28.58 L435.70,28.99 L436.18,29.40 L436.67,29.82 L437.16,30.25 L437.65,30.69 L438.13,31.15 L438.62,31.61 L439.11,32.09 L439.59,32.58 L440.08,33.09 L440.57,33.61 L441.06,34.15 L441.54,34.70 L442.03,35.28 L442.52,35.87 L443.00,36.48 L443.49,37.11 L443.98,37.78 L444.46,38.48 L444.95,39.19 L445.44,39.91 L445.93,40.63 L446.41,41.34 L446.90,42.06 L447.39,42.82 L447.87,43.62 L448.36,44.50 L448.85,45.44 L449.33,46.46 L449.82,47.53 L450.31,48.65 L450.80,49.79 L451.28,50.96 L451.77,52.17 L452.26,53.44 L452.74,54.75 L453.23,56.09 L453.72,57.43 L454.21,58.75 L454.69,60.05 L455.18,61.39 L455.67,62.72 L456.15,64.05 L456.64,65.34 L457.13,66.59 L457.61,67.77 L458.10,68.90 L458.59,70.00 L459.08,71.06 L459.56,72.09 L460.05,73.10 L460.54,74.07 L461.02,75.04 L461.51,75.99 L462.00,76.92 L462.48,77.82 L462.97,78.68 L463.46,79.48 L463.95,80.21 L464.43,80.91 L464.92,81.59 L465.41,82.22 L465.89,82.82 L466.38,83.37 L466.87,83.87 L467.35,84.33 L467.84,84.77 L468.33,85.18 L468.82,85.55 L469.30,85.89 L469.79,86.19 L470.28,86.44 L470.76,86.66 L471.25,86.86 L471.74,87.05 L472.23,87.22 L472.71,87.39 L473.20,87.54 L473.69,87.70 L474.17,87.86 L474.66,88.01 L475.15,88.16 L475.63,88.30 L476.12,88.43 L476.61,88.57 L477.10,88.70 L477.58,88.82 L478.07,88.94 L478.56,89.05 L479.04,89.17 L479.53,89.27 L480.02,89.38 L480.50,89.49 L480.99,89.60 L481.48,89.71 L481.97,89.82 L482.45,89.93 L482.94,90.04 L483.43,90.15 L483.91,90.26 L484.40,90.37 L484.89,90.48 L485.37,90.58 L485.86,90.70 L486.35,90.82 L486.84,90.94 L487.32,91.04 L487.81,91.13 L488.30,91.18 L488.78,91.22 L489.27,91.24 L489.76,91.26 L490.25,91.28 L490.73,91.29 L491.22,91.30 L491.71,91.27 L492.19,91.17 L492.68,91.01 L493.17,90.80 L493.65,90.56 L494.14,90.29 L494.63,90.01 L495.12,89.73 L495.60,89.43 L496.09,89.07 L496.58,88.67 L497.06,88.23 L497.55,87.75 L498.04,87.22 L498.52,86.64 L499.01,86.02 L499.50,85.25 L499.99,84.36 L500.47,83.37 L500.96,82.32 L501.45,81.23 L501.93,80.15 L502.42,79.04 L502.91,77.85 L503.39,76.62 L503.88,75.36 L504.37,74.09 L504.86,72.86 L505.34,71.65 L505.83,70.42 L506.32,69.20 L506.80,67.98 L507.29,66.78 L507.78,65.62 L508.27,64.51 L508.75,63.47 L509.24,62.47 L509.73,61.52 L510.21,60.60 L510.70,59.70 L511.19,58.82 L511.67,57.94 L512.16,57.05 L512.65,56.15 L513.14,55.22 L513.62,54.25 L514.11,53.24 L514.60,52.20 L515.08,51.14 L515.57,50.07 L516.06,49.02 L516.54,48.00 L517.03,47.02 L517.52,46.09 L518.01,45.22 L518.49,44.38 L518.98,43.56 L519.47,42.75 L519.95,41.95 L520.44,41.12 L520.93,40.27 L521.42,39.39 L521.90,38.49 L522.39,37.59 L522.88,36.72 L523.36,35.90 L523.85,35.10 L524.34,34.32 L524.82,33.57 L525.31,32.84 L525.80,32.16 L526.29,31.52 L526.77,30.93 L527.26,30.38 L527.75,29.85 L528.23,29.35 L528.72,28.87 L529.21,28.40 L529.69,27.94 L530.18,27.49 L530.67,27.06 L531.16,26.65 L531.64,26.26 L532.13,25.91 L532.62,25.58 L533.10,25.27 L533.59,24.98 L534.08,24.71 L534.56,24.47 L535.05,24.24 L535.54,24.03 L536.03,23.83 L536.51,23.66 L537.00,23.50" fill="none" stroke="#f22" stroke-width="1.0" stroke-dasharray="2.4 0.6"/>
<path d="M420.4,6.1 V100.2 H537.3" fill="none" stroke="#484848" stroke-width="1.1"/>
<path d="M420.4,6.5 H537.3" fill="none" stroke="#484848" stroke-width="1.1"/>
<path d="M537.3,6.1 V100.60000000000001" fill="none" stroke="#f22" stroke-width="1.0"/>
<path d="M420.4,100.20 h2.0 M420.4,90.83 h1.2 M420.4,81.46 h2.0 M420.4,72.09 h1.2 M420.4,62.72 h2.0 M420.4,53.35 h1.2 M420.4,43.98 h2.0 M420.4,34.61 h1.2 M420.4,25.24 h2.0 M420.4,15.87 h1.2 M420.4,6.50 h2.0 M436.32,100.2 v-2.0 M455.72,100.2 v-1.2 M475.12,100.2 v-2.0 M494.52,100.2 v-1.2 M513.92,100.2 v-2.0 M533.32,100.2 v-1.2" stroke="#333" stroke-width="0.9" fill="none"/>
<path d="M537.3,100.20 h-2.0 M537.3,90.83 h-1.2 M537.3,81.46 h-2.0 M537.3,72.09 h-1.2 M537.3,62.72 h-2.0 M537.3,53.35 h-1.2 M537.3,43.98 h-2.0 M537.3,34.61 h-1.2 M537.3,25.24 h-2.0 M537.3,15.87 h-1.2 M537.3,6.50 h-2.0" stroke="#f22" stroke-width="0.7" fill="none"/>
<text x="418.59999999999997" y="101.50" font-family='"Liberation Serif", serif' font-size="5.1" fill="#333" text-anchor="end">0.0</text>
<text x="539.1999999999999" y="101.50" font-family='"Liberation Serif", serif' font-size="5.1" fill="#f33" text-anchor="start">0.0</text>
<text x="418.59999999999997" y="82.84" font-family='"Liberation Serif", serif' font-size="5.1" fill="#333" text-anchor="end">0.2</text>
<text x="539.1999999999999" y="82.84" font-family='"Liberation Serif", serif' font-size="5.1" fill="#f33" text-anchor="start">0.2</text>
<text x="418.59999999999997" y="64.18" font-family='"Liberation Serif", serif' font-size="5.1" fill="#333" text-anchor="end">0.4</text>
<text x="539.1999999999999" y="64.18" font-family='"Liberation Serif", serif' font-size="5.1" fill="#f33" text-anchor="start">0.4</text>
<text x="418.59999999999997" y="45.52" font-family='"Liberation Serif", serif' font-size="5.1" fill="#333" text-anchor="end">0.6</text>
<text x="539.1999999999999" y="45.52" font-family='"Liberation Serif", serif' font-size="5.1" fill="#f33" text-anchor="start">0.6</text>
<text x="418.59999999999997" y="26.86" font-family='"Liberation Serif", serif' font-size="5.1" fill="#333" text-anchor="end">0.8</text>
<text x="539.1999999999999" y="26.86" font-family='"Liberation Serif", serif' font-size="5.1" fill="#f33" text-anchor="start">0.8</text>
<text x="418.59999999999997" y="8.20" font-family='"Liberation Serif", serif' font-size="5.1" fill="#333" text-anchor="end">1.0</text>
<text x="539.1999999999999" y="8.20" font-family='"Liberation Serif", serif' font-size="5.1" fill="#f33" text-anchor="start">1.0</text>
<text x="436.32" y="106.10000000000001" font-family='"Liberation Serif", serif' font-size="5.1" fill="#222" text-anchor="middle">1.0</text>
<text x="475.12" y="106.10000000000001" font-family='"Liberation Serif", serif' font-size="5.1" fill="#222" text-anchor="middle">1.5</text>
<text x="513.92" y="106.10000000000001" font-family='"Liberation Serif", serif' font-size="5.1" fill="#222" text-anchor="middle">2.0</text>
<text x="479.20" y="114.0" font-family='"Liberation Serif", serif' font-size="7.4" fill="#444" text-anchor="middle">Frequency (THz)</text>
<text x="442.90" y="17.6" font-family='"Liberation Serif", serif' font-size="7.2" fill="#111" text-anchor="middle">(d)</text>
<rect x="494.40" y="14.4" width="26.5" height="10.4" fill="#fff" stroke="#444" stroke-width="0.8"/>
<text transform="translate(507.65,21.9) scale(0.87,1)" font-family='"Liberation Serif", serif' font-size="7.4" fill="#111" stroke="#111" stroke-width="0.15" text-anchor="middle">E<tspan font-size="4.8" dy="1.3">F</tspan><tspan dy="-1.3">=0.8eV</tspan></text>
</g>
<text transform="translate(6.9,50.3) rotate(-90)" font-family='"Liberation Serif", serif' font-size="7.4" fill="#222" text-anchor="middle">Transmission</text>
<path d="M19.6,73.5 H29.2" stroke="#333" stroke-width="0.85"/>
<path d="M19.6,85.5 H29.2" stroke="#f22" stroke-width="0.85" stroke-dasharray="3 0.8 1 0.8"/>
<text transform="translate(31.7,75.4) scale(0.82,1)" font-family='"Liberation Serif", serif' font-size="5.9" fill="#222">Simulated</text>
<text transform="translate(31.7,81.1) scale(0.82,1)" font-family='"Liberation Serif", serif' font-size="5.9" fill="#222">Results</text>
<text transform="translate(31.7,87.4) scale(0.82,1)" font-family='"Liberation Serif", serif' font-size="5.9" fill="#222">Theoretical</text>
<text transform="translate(31.7,93.5) scale(0.82,1)" font-family='"Liberation Serif", serif' font-size="5.9" fill="#222">Fitting</text>
</g>
<clipPath id="c0"><rect x="29.1" y="117.9" width="94.6" height="125.29999999999998"/></clipPath>
<g clip-path="url(#c0)">
<rect x="29.1" y="117.9" width="94.6" height="125.29999999999998" fill="#402ed3"/>
<g filter="url(#b5)"><rect x="24.10" y="150.00" width="80.00" height="24.00" fill="#4a7cf8" opacity="0.85"/><rect x="34.10" y="129.00" width="82.00" height="12.00" fill="#4872f0" opacity="0.6"/></g>
<g filter="url(#b3)"><rect x="46.10" y="146.00" width="38.20" height="22.00" fill="#4678f4" opacity="0.75"/><rect x="33.20" y="158.00" width="18.90" height="16.00" fill="#38c0c0" opacity="0.85"/></g>
<g filter="url(#b2)"><rect x="35.20" y="136.50" width="4.60" height="14.00" fill="#30a8e8" opacity="0.95"/><rect x="34.40" y="148.50" width="5.40" height="20.20" fill="#38c8b0" opacity="1"/><rect x="34.70" y="163.70" width="15.90" height="7.00" fill="#60d870" opacity="0.95"/><rect x="45.60" y="145.70" width="3.00" height="23.00" fill="#38b8d0" opacity="0.85"/><rect x="81.30" y="143.70" width="12.80" height="27.90" fill="#30c0b8" opacity="0.95"/><rect x="91.10" y="135.50" width="7.10" height="34.10" fill="#30b0e0" opacity="0.95"/><rect x="82.30" y="133.50" width="28.30" height="5.00" fill="#38a8e8" opacity="0.85"/><rect x="106.60" y="136.50" width="3.50" height="22.00" fill="#3898f0" opacity="0.7"/><rect x="96.20" y="215.80" width="12.40" height="7.00" fill="#3c80f4" opacity="0.7"/></g>
<g filter="url(#b1)"><path d="M38.20,139.5 V152.7 M46.90,149.7 V157.7" fill="none" stroke="#38c0d8" stroke-width="1.5" opacity="0.95"/><path d="M38.20,150.7 V165.7 M46.90,157.7 V165.7" fill="none" stroke="#70d868" stroke-width="1.7" opacity="1.0"/><path d="M38.20,163.7 V167.89999999999998 H47.10 V163.7" fill="none" stroke="#f4d830" stroke-width="2.1" opacity="1.0"/><path d="M40.20,168.0 H45.10" fill="none" stroke="#ffb028" stroke-width="1.6" opacity="1.0"/><rect x="91.70" y="135.50" width="5.90" height="33.10" fill="#38b4e8" opacity="0.9"/><path d="M83.70,144.7 V169.29999999999998 H91.70 V140.7" fill="none" stroke="#a8d840" stroke-width="1.3" opacity="1.0"/><circle cx="91.90" cy="138.50" r="1.1" fill="#90e050" opacity="1.0"/><path d="M97.50,203.8 V220.5 H107.30 V203.8" fill="none" stroke="#3c84f8" stroke-width="1.3" opacity="0.85"/></g>
<path d="M29.4,118.9L29.0,117.9M34.9,118.9L34.7,117.9M40.5,118.9L40.5,117.9M46.0,118.9L46.2,117.9M51.5,118.9L51.9,117.9M57.1,118.9L57.6,117.9M62.7,118.9L63.3,117.9M68.2,118.9L69.0,117.9M73.8,118.8L74.6,118.0M79.4,118.8L80.3,118.0M85.0,118.8L86.0,118.0M90.6,118.7L91.6,118.1M96.2,118.7L97.3,118.1M101.9,118.6L102.9,118.2M107.5,118.6L108.5,118.2M113.1,118.5L114.2,118.3M118.8,118.5L119.8,118.3M29.5,125.2L28.9,124.2M35.0,125.3L34.6,124.1M40.5,125.3L40.4,124.1M46.0,125.3L46.2,124.1M51.5,125.3L51.9,124.1M57.1,125.3L57.6,124.1M62.7,125.3L63.3,124.1M68.2,125.2L69.0,124.1M73.8,125.2L74.7,124.1M79.4,125.2L80.4,124.2M84.9,125.2L86.1,124.2M90.5,125.1L91.7,124.3M96.1,125.0L97.4,124.4M101.8,124.9L103.0,124.4M107.4,124.9L108.6,124.5M113.1,124.8L114.2,124.6M118.8,124.8L119.8,124.6M29.6,131.5L28.8,130.4M35.1,131.6L34.5,130.3M40.6,131.7L40.3,130.2M46.0,131.7L46.1,130.2M51.5,131.7L51.9,130.2M57.1,131.7L57.6,130.3M62.6,131.7L63.3,130.3M68.2,131.7L69.0,130.3M73.8,131.7L74.7,130.3M79.3,131.7L80.4,130.3M84.9,131.6L86.1,130.3M90.4,131.5L91.9,130.4M96.0,131.4L97.5,130.5M101.6,131.3L103.1,130.7M107.3,131.2L108.7,130.8M113.0,131.1L114.3,130.8M118.7,131.1L119.9,130.9M29.8,137.9L28.6,136.7M35.3,138.1L34.4,136.5M40.7,138.2L40.2,136.4M46.0,138.2L46.1,136.3M51.4,138.2L52.0,136.4M57.0,138.1L57.7,136.4M62.6,138.1L63.4,136.4M68.2,138.2L69.0,136.4M73.8,138.2L74.7,136.3M79.4,138.3L80.4,136.3M84.8,138.2L86.2,136.3M95.8,137.9L97.8,136.7M101.4,137.6L103.3,136.9M107.2,137.5L108.9,137.1M112.9,137.4L114.4,137.1M118.6,137.3L119.9,137.2M28.2,143.6L30.2,143.5M33.7,143.7L36.0,143.5M56.2,143.7L58.5,143.5M61.8,143.6L64.1,143.5M67.4,143.7L69.8,143.5M107.0,143.7L109.0,143.4M112.8,143.6L114.5,143.5M118.6,143.6L120.0,143.5M106.9,149.9L109.2,149.8M112.7,149.9L114.6,149.8M118.5,149.8L120.0,149.9M106.8,156.0L109.2,156.3M112.7,156.1L114.6,156.2M118.5,156.1L120.0,156.2M107.0,162.2L109.1,162.7M112.8,162.3L114.5,162.6M118.6,162.3L120.0,162.5M101.4,168.3L103.4,169.2M107.1,168.4L108.9,169.0M112.9,168.5L114.4,168.9M118.6,168.6L119.9,168.9M67.8,174.2L69.4,175.9M73.5,174.1L74.9,175.9M79.2,174.1L80.6,175.9M84.7,174.2L86.3,175.8M90.3,174.3L92.0,175.7M95.9,174.5L97.6,175.5M101.6,174.6L103.2,175.4M107.3,174.7L108.8,175.3M113.0,174.8L114.3,175.2M118.7,174.8L119.9,175.2M29.9,180.4L28.5,182.2M56.7,180.4L58.0,182.2M62.3,180.5L63.6,182.1M68.0,180.6L69.2,182.0M73.6,180.6L74.8,182.0M79.3,180.6L80.5,182.0M84.9,180.7L86.1,181.9M90.5,180.8L91.8,181.8M96.1,180.9L97.4,181.7M101.7,180.9L103.1,181.7M107.4,181.0L108.6,181.6M113.1,181.1L114.2,181.5M118.7,181.1L119.8,181.5M29.6,186.8L28.8,188.4M35.1,186.7L34.5,188.5M40.5,186.6L40.4,188.6M45.9,186.6L46.3,188.6M51.4,186.7L52.1,188.5M56.9,186.8L57.8,188.4M62.5,186.9L63.5,188.3M68.1,186.9L69.1,188.2M73.7,187.0L74.7,188.2M79.4,187.0L80.4,188.1M85.0,187.1L86.0,188.1M90.6,187.1L91.7,188.0M96.2,187.2L97.3,188.0M101.8,187.3L103.0,187.9M107.5,187.3L108.6,187.9M113.1,187.4L114.2,187.8M118.8,187.4L119.8,187.8M29.5,193.2L28.9,194.6M35.0,193.1L34.7,194.6M40.5,193.1L40.4,194.7M46.0,193.1L46.2,194.7M51.5,193.1L52.0,194.6M57.0,193.2L57.7,194.6M62.6,193.3L63.3,194.5M68.2,193.3L69.0,194.5M73.8,193.3L74.7,194.4M79.4,193.4L80.3,194.4M85.0,193.4L86.0,194.3M90.6,193.5L91.6,194.3M96.2,193.5L97.3,194.2M101.8,193.6L102.9,194.2M107.5,193.6L108.6,194.1M113.1,193.7L114.2,194.1M118.8,193.7L119.8,194.1M29.4,199.6L29.0,200.8M34.9,199.5L34.7,200.8M40.5,199.5L40.5,200.8M46.0,199.5L46.2,200.8M51.5,199.5L51.9,200.8M57.1,199.6L57.6,200.8M62.7,199.6L63.3,200.7M68.3,199.7L68.9,200.7M73.9,199.7L74.6,200.7M79.5,199.7L80.3,200.6M85.1,199.7L85.9,200.6M90.7,199.8L91.6,200.6M96.2,199.8L97.3,200.5M101.8,199.9L102.9,200.5M107.5,199.9L108.6,200.4M113.1,200.0L114.2,200.4M118.8,200.0L119.8,200.4M29.3,205.9L29.1,207.0M34.9,205.9L34.8,207.0M40.4,205.9L40.5,207.0M46.0,205.9L46.2,207.0M51.6,205.9L51.9,207.0M57.1,205.9L57.6,207.0M62.7,206.0L63.2,207.0M68.3,206.0L68.9,206.9M73.9,206.0L74.6,206.9M79.5,206.0L80.2,206.9M85.1,206.0L85.9,206.9M90.7,206.0L91.6,206.9M96.2,206.1L97.3,206.8M101.8,206.2L103.0,206.7M107.4,206.2L108.6,206.7M113.1,206.2L114.2,206.7M118.8,206.3L119.8,206.7M29.2,212.3L29.2,213.2M34.8,212.3L34.8,213.2M40.4,212.3L40.5,213.2M46.0,212.3L46.2,213.2M51.6,212.3L51.9,213.2M57.2,212.3L57.5,213.2M62.8,212.3L63.2,213.2M68.4,212.3L68.9,213.2M74.0,212.3L74.5,213.2M79.6,212.3L80.2,213.2M85.2,212.3L85.8,213.2M90.7,212.2L91.5,213.3M96.2,212.3L97.3,213.2M101.7,212.5L103.1,213.0M107.4,212.5L108.7,213.0M113.1,212.5L114.2,213.0M118.8,212.5L119.8,213.0M29.2,218.6L29.2,219.5M34.8,218.6L34.9,219.5M40.4,218.6L40.5,219.5M46.0,218.6L46.2,219.5M51.6,218.6L51.9,219.5M57.2,218.6L57.5,219.5M62.8,218.6L63.2,219.5M68.4,218.6L68.8,219.5M74.0,218.6L74.5,219.5M79.6,218.6L80.1,219.5M85.2,218.5L85.8,219.5M90.8,218.4L91.4,219.6M96.7,218.3L96.9,219.8M101.6,218.7L103.1,219.3M107.3,218.8L108.7,219.3M113.1,218.8L114.2,219.3M118.8,218.8L119.8,219.3M29.2,224.9L29.2,225.8M34.8,224.9L34.9,225.8M40.4,224.9L40.5,225.8M46.0,224.9L46.2,225.8M51.6,224.9L51.9,225.8M57.2,224.9L57.5,225.8M62.8,224.9L63.2,225.7M68.4,224.9L68.8,225.8M74.0,224.9L74.5,225.8M79.6,224.9L80.1,225.8M85.2,224.8L85.8,225.8M90.9,224.8L91.4,225.9M96.5,224.7L97.0,226.0M101.9,224.7L102.9,225.9M107.4,224.9L108.6,225.7M113.1,225.0L114.2,225.6M118.8,225.1L119.8,225.6M29.2,231.2L29.2,232.0M34.8,231.2L34.9,232.0M40.4,231.2L40.6,232.0M46.0,231.2L46.2,232.0M51.6,231.2L51.9,232.0M57.2,231.2L57.5,232.0M62.8,231.2L63.2,232.0M68.4,231.2L68.8,232.0M74.0,231.2L74.5,232.0M79.6,231.2L80.1,232.0M85.2,231.2L85.8,232.1M90.8,231.1L91.4,232.1M96.4,231.1L97.1,232.1M102.0,231.2L102.8,232.1M107.6,231.2L108.5,232.0M113.2,231.3L114.1,231.9M118.8,231.3L119.7,231.9M29.1,237.5L29.3,238.3M34.7,237.5L34.9,238.3M40.3,237.5L40.6,238.3M46.0,237.5L46.2,238.3M51.6,237.5L51.9,238.3M57.2,237.5L57.5,238.3M62.8,237.5L63.2,238.3M68.4,237.5L68.8,238.3M74.0,237.5L74.5,238.3M79.6,237.5L80.1,238.3M85.2,237.5L85.8,238.3M90.8,237.5L91.4,238.3M96.4,237.5L97.1,238.3M102.0,237.5L102.8,238.3M107.6,237.6L108.4,238.3M113.2,237.6L114.1,238.2M118.9,237.6L119.7,238.2" stroke="#fff" stroke-width="0.85" stroke-opacity="0.46" stroke-linecap="round" fill="none"/><path d="M90.2,138.1L92.0,136.4M39.2,143.7L41.7,143.4M44.9,143.7L47.3,143.4M50.5,143.7L52.9,143.4M73.0,143.7L75.5,143.4M78.4,143.8L81.3,143.3M83.9,143.8L87.1,143.3M89.5,143.7L92.8,143.4M95.2,143.7L98.3,143.5M101.1,143.9L103.6,143.2M27.8,149.9L30.6,149.8M33.3,150.0L36.4,149.7M38.8,150.1L42.1,149.6M44.4,150.1L47.8,149.6M50.2,150.0L53.3,149.7M55.9,149.9L58.8,149.8M61.6,149.9L64.3,149.8M67.2,149.9L70.0,149.8M72.7,150.0L75.8,149.7M78.1,150.0L81.7,149.7M83.5,150.3L87.5,149.4M89.0,150.4L93.3,149.3M94.7,149.9L98.8,149.8M100.8,150.0L103.9,149.7M27.5,156.2L30.9,156.1M32.7,156.3L37.0,156.0M38.2,156.8L42.8,155.5M43.8,156.4L48.4,155.8M49.7,156.3L53.7,156.0M55.7,156.2L59.0,156.1M61.5,156.2L64.5,156.1M67.1,156.1L70.1,156.1M72.6,156.1L75.9,156.1M77.8,156.1L81.9,156.1M83.2,156.1L87.8,156.1M88.8,155.9L93.5,156.3M94.7,156.1L98.8,156.2M100.8,155.9L104.0,156.4M27.2,162.4L31.2,162.4M32.2,162.5L37.5,162.4M37.8,162.6L43.2,162.2M43.4,162.6L48.8,162.2M49.4,162.4L54.0,162.4M55.5,162.4L59.2,162.4M61.4,162.4L64.5,162.5M67.1,162.4L70.1,162.5M72.7,162.3L75.8,162.6M78.1,162.1L81.7,162.7M83.6,162.1L87.4,162.7M89.2,162.3L93.0,162.6M95.1,162.3L98.4,162.5M101.1,162.0L103.7,162.9M27.4,168.6L31.0,168.8M32.4,168.5L37.2,168.9M38.0,167.6L42.9,169.8M43.6,168.3L48.6,169.1M49.6,168.6L53.8,168.9M55.6,168.6L59.1,168.8M61.5,168.6L64.4,168.8M67.3,168.6L69.9,168.8M72.9,168.6L75.6,168.9M78.5,168.5L81.3,168.9M84.0,168.6L87.0,168.9M89.7,168.6L92.6,168.8M95.5,168.6L98.0,168.8M30.4,174.1L28.0,175.9M35.9,173.6L33.8,176.5M40.7,173.1L40.2,176.9M45.4,173.2L46.7,176.8M50.7,173.7L52.8,176.3M56.3,174.0L58.4,176.0M62.1,174.2L63.9,175.9M35.4,180.1L34.3,182.5M40.6,179.9L40.3,182.7M45.8,180.0L46.4,182.6M51.1,180.2L52.3,182.4" stroke="#fff" stroke-width="0.75" stroke-opacity="0.85" stroke-linecap="round" fill="none"/>
<path d="M39.20,138.5 H91.10 V168.6 H84.30 V143.7 H46.10 V166.7 H39.20 Z" fill="#3d27b6"/>
<rect x="98.20" y="138.50" width="8.40" height="81.30" fill="#3d27b6" opacity="1.0"/>
<clipPath id="m0"><rect x="83.30" y="143.7" width="8.80" height="24.900000000000006"/></clipPath>
<g clip-path="url(#m0)"><path d="" stroke="#fff" stroke-width="0.85" stroke-opacity="0.46" stroke-linecap="round" fill="none"/><path d="M83.9,143.8L87.1,143.3M89.5,143.7L92.8,143.4M83.5,150.3L87.5,149.4M89.0,150.4L93.3,149.3M83.2,156.1L87.8,156.1M88.8,155.9L93.5,156.3M83.6,162.1L87.4,162.7M89.2,162.3L93.0,162.6M84.0,168.6L87.0,168.9M89.7,168.6L92.6,168.8" stroke="#fff" stroke-width="0.75" stroke-opacity="0.85" stroke-linecap="round" fill="none"/></g>
</g>
<text x="40.10" y="132.2" font-family='"Liberation Serif", serif' font-size="10.2" fill="#fff" text-anchor="middle">(e)</text>
<clipPath id="c1"><rect x="163.7" y="117.9" width="94.7" height="125.29999999999998"/></clipPath>
<g clip-path="url(#c1)">
<rect x="163.7" y="117.9" width="94.7" height="125.29999999999998" fill="#402ed3"/>
<g filter="url(#b5)"><rect x="158.70" y="152.00" width="80.00" height="22.00" fill="#4a78f8" opacity="0.7"/><rect x="203.70" y="129.00" width="50.00" height="14.00" fill="#4872f0" opacity="0.6"/></g>
<g filter="url(#b3)"><path d="M181.29999999999998,143.7 L205.29999999999998,168.7 L181.29999999999998,168.7 Z" fill="#4a84f8" opacity="0.85"/><path d="M218.89999999999998,143.7 L198.89999999999998,168.7 L218.89999999999998,168.7 Z" fill="#4a84f8" opacity="0.75"/><rect x="167.50" y="158.70" width="20.80" height="15.00" fill="#38b8d0" opacity="0.85"/></g>
<g filter="url(#b2)"><path d="M175.0,140.5 L168.0,169.7 L175.0,169.7 Z" fill="#30b0e0" opacity="0.95"/><path d="M180.79999999999998,145.7 L187.79999999999998,169.7 L180.79999999999998,169.7 Z" fill="#30b0e0" opacity="0.95"/><rect x="170.00" y="161.70" width="15.80" height="9.00" fill="#50d080" opacity="0.95"/><rect x="216.40" y="145.70" width="11.80" height="25.90" fill="#30b8d0" opacity="0.9"/><rect x="225.70" y="135.50" width="7.60" height="34.10" fill="#30b0e0" opacity="0.9"/><rect x="223.70" y="134.00" width="23.00" height="4.50" fill="#38b0e0" opacity="0.85"/><rect x="241.70" y="136.50" width="3.50" height="26.00" fill="#3898f0" opacity="0.75"/><rect x="230.30" y="210.00" width="14.40" height="13.00" fill="#3890f8" opacity="0.9"/></g>
<g filter="url(#b1)"><path d="M173.50,158.7 V165.7 M182.20,158.7 V165.7" fill="none" stroke="#70d868" stroke-width="1.6" opacity="1.0"/><path d="M173.50,164.2 V167.89999999999998 H182.30 V164.2" fill="none" stroke="#f4d830" stroke-width="2.1" opacity="1.0"/><circle cx="173.70" cy="167.50" r="1.2" fill="#ffa020" opacity="1.0"/><circle cx="182.10" cy="167.50" r="1.2" fill="#ffa020" opacity="1.0"/><path d="M218.40,166.6 V169.2 H226.20 V166.6" fill="none" stroke="#70d070" stroke-width="1.1" opacity="1.0"/><circle cx="218.40" cy="169.00" r="1.1" fill="#f0c030" opacity="1.0"/><circle cx="226.20" cy="169.00" r="1.1" fill="#f0c030" opacity="1.0"/><rect x="226.30" y="135.50" width="6.40" height="33.10" fill="#38b4e8" opacity="0.85"/><path d="M173.80,147.5 V162.7 M182.00,150.7 V162.7" fill="none" stroke="#38c8d8" stroke-width="1.3" opacity="0.95"/><path d="M218.30,145.7 V165.6 M226.30,140.5 V165.6" fill="none" stroke="#38c0e0" stroke-width="1.2" opacity="0.95"/><circle cx="226.30" cy="138.80" r="1.2" fill="#b8e040" opacity="1.0"/><circle cx="242.10" cy="138.80" r="1.2" fill="#b8e040" opacity="1.0"/><path d="M232.60,193.0 V219.7 H242.40 V193.0" fill="none" stroke="#3c90fa" stroke-width="1.4" opacity="0.95"/></g>
<path d="M164.0,118.8L163.6,118.0M169.6,118.9L169.3,117.9M175.1,118.9L175.0,117.9M180.7,118.9L180.7,117.9M186.2,118.9L186.4,117.9M191.8,118.9L192.1,117.9M197.4,118.9L197.8,117.9M203.0,118.9L203.4,117.9M208.6,119.0L209.1,117.8M214.1,119.0L214.8,117.8M219.7,119.0L220.5,117.8M225.2,118.9L226.2,117.9M230.8,118.8L232.0,118.0M236.4,118.7L237.6,118.1M242.0,118.6L243.2,118.2M247.7,118.6L248.8,118.2M253.3,118.5L254.4,118.3M164.1,125.1L163.5,124.3M169.7,125.2L169.2,124.2M175.2,125.2L174.9,124.2M180.7,125.2L180.6,124.1M186.3,125.3L186.4,124.1M191.9,125.3L192.0,124.1M197.4,125.3L197.7,124.1M203.0,125.3L203.4,124.1M208.6,125.4L209.0,124.0M214.2,125.4L214.7,123.9M219.7,125.5L220.5,123.9M225.2,125.4L226.3,123.9M230.7,125.3L232.1,124.1M236.2,125.1L237.8,124.3M241.9,125.0L243.4,124.4M247.6,124.9L248.9,124.5M253.3,124.8L254.5,124.6M164.2,131.4L163.4,130.6M169.7,131.5L169.1,130.5M175.3,131.6L174.8,130.4M180.8,131.6L180.6,130.4M186.3,131.6L186.3,130.3M191.9,131.6L192.0,130.3M197.5,131.7L197.7,130.3M203.1,131.7L203.3,130.2M208.8,131.8L208.9,130.2M214.5,131.9L214.5,130.0M220.1,132.1L220.1,129.9M236.0,131.5L238.0,130.4M241.7,131.3L243.5,130.7M247.5,131.1L249.0,130.8M253.2,131.1L254.6,130.9M164.3,137.7L163.3,136.9M169.9,137.8L169.0,136.7M175.4,137.9L174.7,136.6M180.8,138.0L180.6,136.5M186.3,138.0L186.3,136.5M191.8,138.0L192.1,136.5M197.4,138.1L197.7,136.5M203.1,138.1L203.3,136.4M209.0,138.2L208.7,136.3M215.0,138.3L214.0,136.3M241.5,137.5L243.8,137.1M247.3,137.4L249.2,137.2M253.1,137.3L254.6,137.2M163.0,143.6L164.6,143.5M168.6,143.6L170.3,143.5M174.2,143.6L176.0,143.5M179.8,143.7L181.6,143.5M185.4,143.6L187.2,143.5M191.0,143.6L192.9,143.5M196.7,143.6L198.5,143.5M202.3,143.6L204.2,143.5M207.8,143.6L209.9,143.5M247.3,143.6L249.2,143.6M253.1,143.6L254.7,143.6M162.9,149.9L164.7,149.8M168.4,149.9L170.5,149.8M173.9,150.0L176.2,149.7M185.1,150.0L187.5,149.7M190.8,149.9L193.1,149.8M196.5,149.9L198.6,149.8M202.1,149.9L204.3,149.8M207.7,149.9L210.0,149.8M241.4,149.7L243.8,150.0M247.3,149.8L249.2,149.9M253.1,149.8L254.6,149.9M162.7,156.2L164.9,156.1M202.0,156.2L204.4,156.1M241.6,155.9L243.7,156.4M247.4,156.0L249.1,156.3M253.2,156.0L254.6,156.2M235.9,162.1L238.1,162.7M241.7,162.2L243.6,162.7M247.5,162.3L249.0,162.6M253.2,162.3L254.6,162.6M236.0,168.4L238.0,169.0M241.8,168.5L243.4,169.0M247.5,168.5L249.0,168.9M253.3,168.6L254.5,168.9M202.4,174.2L204.0,175.8M208.3,174.1L209.4,176.0M214.1,173.9L214.9,176.1M224.8,174.3L226.7,175.7M230.4,174.5L232.3,175.5M236.2,174.7L237.8,175.4M241.9,174.8L243.4,175.3M247.6,174.8L248.9,175.2M253.3,174.8L254.5,175.2M164.6,180.6L163.0,182.0M196.9,180.5L198.3,182.1M202.6,180.5L203.8,182.1M208.3,180.5L209.4,182.1M213.9,180.5L215.0,182.1M219.5,180.6L220.7,182.0M225.0,180.7L226.5,181.9M230.6,180.9L232.1,181.7M236.3,181.0L237.7,181.6M242.0,181.0L243.3,181.6M247.7,181.1L248.8,181.5M253.3,181.1L254.4,181.5M164.4,186.9L163.2,188.3M169.9,186.7L168.9,188.4M175.3,186.6L174.8,188.6M180.6,186.5L180.7,188.7M186.0,186.6L186.7,188.6M191.5,186.7L192.4,188.4M197.1,186.8L198.1,188.3M202.7,186.9L203.7,188.3M208.4,186.9L209.3,188.3M214.0,187.0L215.0,188.2M219.5,187.0L220.7,188.2M225.1,187.1L226.3,188.1M230.7,187.2L232.0,188.0M236.4,187.3L237.6,187.9M242.0,187.3L243.2,187.8M247.7,187.4L248.8,187.8M253.4,187.4L254.4,187.8M164.2,193.3L163.4,194.5M169.7,193.2L169.1,194.6M175.2,193.1L174.9,194.7M180.7,193.0L180.7,194.7M186.1,193.1L186.5,194.7M191.7,193.1L192.2,194.6M197.2,193.2L197.9,194.5M202.8,193.3L203.6,194.5M208.4,193.3L209.2,194.5M214.0,193.3L214.9,194.4M219.6,193.4L220.6,194.4M225.2,193.4L226.3,194.3M230.8,193.5L232.0,194.3M236.4,193.6L237.6,194.2M242.0,193.6L243.2,194.1M247.7,193.7L248.8,194.1M253.4,193.7L254.4,194.1M164.0,199.6L163.6,200.7M169.6,199.6L169.3,200.8M175.1,199.5L175.0,200.8M180.7,199.5L180.7,200.8M186.2,199.5L186.5,200.8M191.7,199.5L192.2,200.8M197.3,199.6L197.8,200.8M202.9,199.6L203.5,200.7M208.5,199.6L209.2,200.7M214.1,199.6L214.9,200.7M219.7,199.7L220.5,200.7M225.2,199.7L226.3,200.6M230.8,199.8L232.0,200.5M236.4,199.9L237.6,200.5M242.0,199.9L243.2,200.4M247.7,200.0L248.8,200.4M253.3,200.0L254.4,200.4M163.9,205.9L163.7,207.0M169.5,205.9L169.3,207.0M175.1,205.9L175.0,207.0M180.6,205.9L180.7,207.0M186.2,205.9L186.4,207.0M191.8,205.9L192.1,207.0M197.4,205.9L197.8,207.0M203.0,205.9L203.5,207.0M208.6,205.9L209.1,207.0M214.1,205.9L214.8,207.0M219.7,205.9L220.5,207.0M225.2,205.9L226.2,207.0M230.7,206.1L232.0,206.9M236.3,206.2L237.7,206.7M241.9,206.3L243.3,206.7M247.6,206.3L248.9,206.7M253.3,206.3L254.5,206.6M163.9,212.3L163.7,213.2M169.5,212.3L169.4,213.2M175.1,212.2L175.1,213.3M180.6,212.2L180.7,213.3M186.2,212.2L186.4,213.3M191.8,212.2L192.1,213.3M197.4,212.2L197.8,213.3M203.0,212.2L203.4,213.3M208.6,212.2L209.1,213.3M214.2,212.2L214.7,213.3M219.8,212.2L220.4,213.3M225.4,212.1L226.0,213.4M230.8,212.1L231.9,213.4M236.1,212.7L237.9,212.8M241.8,212.6L243.5,212.9M247.5,212.5L249.0,213.0M253.3,212.5L254.5,213.0M163.8,218.6L163.8,219.5M169.4,218.6L169.4,219.5M175.0,218.6L175.1,219.5M180.6,218.6L180.8,219.5M186.2,218.6L186.4,219.5M191.8,218.6L192.1,219.5M197.4,218.6L197.7,219.5M203.0,218.6L203.4,219.5M208.6,218.5L209.0,219.5M214.3,218.5L214.7,219.6M219.9,218.4L220.3,219.7M225.7,218.3L225.8,219.8M231.8,218.2L230.9,219.9M236.4,218.3L237.6,219.8M241.7,218.8L243.5,219.3M247.5,218.8L249.0,219.3M253.3,218.8L254.5,219.3M163.8,224.9L163.8,225.8M169.4,224.9L169.5,225.8M175.0,224.9L175.1,225.8M180.6,224.9L180.8,225.8M186.2,224.9L186.4,225.8M191.8,224.9L192.1,225.8M197.4,224.9L197.7,225.8M203.0,224.9L203.4,225.8M208.7,224.8L209.0,225.8M214.3,224.8L214.7,225.9M219.9,224.7L220.3,225.9M225.6,224.6L225.9,226.0M231.2,224.5L231.5,226.2M236.5,224.5L237.4,226.1M241.9,224.8L243.3,225.8M247.6,225.0L248.9,225.7M253.3,225.0L254.4,225.6M163.8,231.2L163.8,232.0M169.4,231.2L169.5,232.0M175.0,231.2L175.1,232.0M180.6,231.2L180.8,232.0M186.2,231.2L186.4,232.0M191.8,231.2L192.1,232.0M197.4,231.2L197.7,232.1M203.0,231.2L203.4,232.1M208.7,231.2L209.0,232.1M214.3,231.1L214.7,232.1M219.9,231.1L220.3,232.2M225.5,231.0L226.0,232.2M231.1,231.0L231.7,232.2M236.6,231.0L237.4,232.2M242.1,231.2L243.1,232.1M247.7,231.3L248.8,232.0M253.4,231.3L254.4,231.9M163.7,237.5L163.9,238.3M169.4,237.5L169.5,238.3M175.0,237.5L175.1,238.3M180.6,237.5L180.8,238.3M186.2,237.5L186.4,238.3M191.8,237.5L192.1,238.3M197.4,237.5L197.7,238.3M203.0,237.5L203.4,238.3M208.6,237.5L209.0,238.3M214.3,237.5L214.7,238.4M219.9,237.4L220.3,238.4M225.5,237.4L226.0,238.4M231.0,237.4L231.7,238.4M236.6,237.4L237.4,238.4M242.2,237.5L243.0,238.3M247.8,237.6L248.7,238.3M253.4,237.6L254.3,238.2" stroke="#fff" stroke-width="0.85" stroke-opacity="0.46" stroke-linecap="round" fill="none"/><path d="M225.4,132.2L226.1,129.8M230.5,131.9L232.2,130.1M220.9,138.3L219.3,136.2M226.4,138.7L225.0,135.8M230.2,138.6L232.5,135.9M235.6,137.8L238.4,136.8M213.2,143.6L215.7,143.5M218.6,143.6L221.6,143.5M223.8,143.5L227.6,143.6M229.4,143.5L233.3,143.6M235.3,143.5L238.6,143.6M241.4,143.6L243.9,143.5M179.5,150.0L181.9,149.7M213.2,149.9L215.8,149.8M218.6,149.8L221.6,149.9M224.0,149.7L227.4,150.0M229.6,149.7L233.1,150.0M235.5,149.5L238.4,150.2M168.0,156.2L170.8,156.1M173.4,156.3L176.7,156.0M179.0,156.4L182.3,155.8M184.8,156.3L187.9,156.0M190.6,156.2L193.3,156.1M196.4,156.2L198.8,156.1M207.6,156.1L210.1,156.1M213.1,156.2L215.8,156.1M218.6,156.1L221.6,156.1M224.2,156.1L227.3,156.2M229.9,156.1L232.8,156.2M235.7,155.8L238.2,156.5M162.5,162.4L165.1,162.4M167.7,162.5L171.2,162.4M172.8,162.6L177.3,162.2M178.4,162.8L183.0,162.1M184.4,162.5L188.3,162.4M190.4,162.4L193.5,162.4M196.3,162.4L198.9,162.4M202.0,162.4L204.4,162.4M207.6,162.4L210.1,162.5M213.1,162.4L215.9,162.4M218.5,162.5L221.7,162.3M224.2,162.4L227.3,162.4M230.0,162.4L232.7,162.5M162.4,168.7L165.2,168.7M167.5,168.7L171.3,168.8M172.5,168.6L177.6,168.8M178.1,168.6L183.2,168.8M184.2,168.7L188.4,168.8M190.3,168.7L193.6,168.8M196.2,168.7L198.9,168.8M202.0,168.7L204.4,168.8M207.6,168.6L210.1,168.8M213.1,168.6L215.8,168.8M218.6,168.5L221.6,169.0M224.3,168.6L227.2,168.8M230.1,168.7L232.6,168.8M165.0,174.5L162.6,175.5M170.8,174.2L168.0,175.9M176.3,173.4L173.9,176.6M180.0,173.0L181.4,177.0M184.9,173.9L187.7,176.2M190.7,174.2L193.2,175.8M196.6,174.3L198.6,175.7M219.5,173.9L220.7,176.1M170.3,180.3L168.6,182.3M175.6,180.0L174.5,182.6M180.5,179.8L180.9,182.8M185.6,180.1L187.0,182.5M191.2,180.4L192.7,182.2" stroke="#fff" stroke-width="0.75" stroke-opacity="0.85" stroke-linecap="round" fill="none"/>
<path d="M174.50,138.5 H225.70 V168.6 H218.90 V143.7 H181.30 V166.7 H174.50 Z" fill="#3d27b6"/>
<rect x="233.30" y="138.50" width="8.40" height="80.50" fill="#3d27b6" opacity="1.0"/>
<clipPath id="m1"><rect x="217.90" y="143.7" width="8.80" height="24.900000000000006"/></clipPath>
<g clip-path="url(#m1)"><path d="" stroke="#fff" stroke-width="0.85" stroke-opacity="0.46" stroke-linecap="round" fill="none"/><path d="M218.6,143.6L221.6,143.5M223.8,143.5L227.6,143.6M218.6,149.8L221.6,149.9M224.0,149.7L227.4,150.0M218.6,156.1L221.6,156.1M224.2,156.1L227.3,156.2M218.5,162.5L221.7,162.3M224.2,162.4L227.3,162.4M218.6,168.5L221.6,169.0M224.3,168.6L227.2,168.8" stroke="#fff" stroke-width="0.75" stroke-opacity="0.85" stroke-linecap="round" fill="none"/></g>
</g>
<text x="175.10" y="132.2" font-family='"Liberation Serif", serif' font-size="10.2" fill="#fff" text-anchor="middle">(f)</text>
<clipPath id="c2"><rect x="298.7" y="117.9" width="94.9" height="125.29999999999998"/></clipPath>
<g clip-path="url(#c2)">
<rect x="298.7" y="117.9" width="94.9" height="125.29999999999998" fill="#402ed3"/>
<g filter="url(#b5)"><rect x="297.20" y="149.80" width="38.00" height="50.00" fill="#4a7cf8" opacity="0.85"/><rect x="345.90" y="129.80" width="42.60" height="46.00" fill="#4a78f8" opacity="0.85"/><rect x="358.60" y="196.40" width="26.90" height="34.00" fill="#4a7cf8" opacity="0.85"/></g>
<g filter="url(#b3)"><path d="M315.7,144.8 L339.7,170.6 L315.7,170.6 Z" fill="#4a84f8" opacity="0.85"/><path d="M353.9,144.8 L335.9,168.6 L353.9,168.6 Z" fill="#4a80f8" opacity="0.6"/><rect x="302.20" y="166.60" width="20.50" height="16.00" fill="#3ca0f0" opacity="0.8"/><path d="M309.2,147.8 L298.2,177.6 L309.2,177.6 Z" fill="#4a88f8" opacity="0.85"/></g>
<g filter="url(#b2)"><rect x="307.70" y="131.00" width="1.30" height="14.80" fill="#40a0f0" opacity="0.9"/><path d="M309.7,145.8 L303.2,171.6 L309.7,171.6 Z" fill="#30a8e8" opacity="0.85"/><path d="M315.2,148.8 L320.7,171.6 L315.2,171.6 Z" fill="#30b0e0" opacity="0.9"/><rect x="306.20" y="161.60" width="3.00" height="14.00" fill="#38c0b0" opacity="0.9"/><rect x="315.70" y="161.60" width="3.00" height="14.00" fill="#38c0b0" opacity="0.9"/><rect x="309.20" y="168.60" width="6.50" height="8.00" fill="#30b0d0" opacity="0.95"/><rect x="307.90" y="168.60" width="1.30" height="30.00" fill="#40a8f0" opacity="0.7"/><rect x="315.70" y="168.60" width="1.30" height="30.00" fill="#40a8f0" opacity="0.7"/><rect x="351.40" y="144.80" width="11.80" height="26.80" fill="#30b8d8" opacity="0.9"/><rect x="360.70" y="137.80" width="6.90" height="31.80" fill="#28c0c0" opacity="0.95"/><rect x="364.60" y="136.70" width="15.90" height="36.00" fill="#30b8d8" opacity="0.9"/><rect x="363.10" y="202.40" width="17.90" height="22.50" fill="#30b4e8" opacity="1"/></g>
<g filter="url(#b1)"><path d="M308.40,147.8 V162.6 M316.50,152.8 V162.6" fill="none" stroke="#30b8d8" stroke-width="1.3" opacity="0.9"/><path d="M308.30,160.6 V177.6 M316.60,160.6 V177.6" fill="none" stroke="#48d088" stroke-width="1.5" opacity="1.0"/><path d="M308.30,166.1 V174.6" fill="none" stroke="#f5c030" stroke-width="1.2" opacity="1.0"/><path d="M316.60,166.1 V174.6" fill="none" stroke="#f5c030" stroke-width="1.2" opacity="1.0"/><path d="M367.10,144.7 V140.2 H377.00 V144.7" fill="none" stroke="#88d860" stroke-width="1.2" opacity="1.0"/><path d="M353.30,145.8 V169.2 H361.30 V140.8" fill="none" stroke="#38c8c8" stroke-width="1.1" opacity="1.0"/><circle cx="353.40" cy="169.00" r="1.0" fill="#e8d030" opacity="1.0"/><circle cx="361.20" cy="169.00" r="1.0" fill="#e8d030" opacity="1.0"/><circle cx="367.30" cy="140.50" r="0.9" fill="#d8e030" opacity="1.0"/><circle cx="376.80" cy="140.50" r="0.9" fill="#d8e030" opacity="1.0"/><rect x="361.30" y="137.80" width="5.70" height="30.80" fill="#30c0d0" opacity="0.85"/><path d="M367.10,218.9 V221.0 H377.00 V218.9" fill="none" stroke="#90d858" stroke-width="1.2" opacity="1.0"/><circle cx="367.30" cy="220.80" r="0.9" fill="#e0e030" opacity="1.0"/><circle cx="376.80" cy="220.80" r="0.9" fill="#e0e030" opacity="1.0"/><path d="M367.00,198.4 V217.4 M377.10,198.4 V217.4" fill="none" stroke="#30c8d8" stroke-width="1.2" opacity="0.9"/><path d="M367.00,143.7 V174.7 M377.10,143.7 V174.7" fill="none" stroke="#30c8d0" stroke-width="1.2" opacity="0.95"/></g>
<path d="M299.2,118.7L298.4,118.1M304.8,118.7L304.1,118.1M310.4,118.7L309.7,118.1M316.0,118.8L315.4,118.0M321.6,118.8L321.0,118.0M327.3,118.8L326.6,118.0M332.9,118.9L332.3,117.9M338.5,118.9L337.9,117.9M344.2,119.0L343.5,117.8M349.8,119.1L349.1,117.7M355.4,119.2L354.8,117.6M360.9,119.4L360.6,117.4M366.2,119.5L366.5,117.3M371.4,119.4L372.5,117.4M376.8,119.2L378.4,117.6M382.4,119.0L384.1,117.8M388.1,118.8L389.7,118.0M299.2,124.9L298.4,124.4M304.8,125.0L304.0,124.4M310.4,125.0L309.7,124.4M316.1,125.0L315.3,124.3M321.7,125.1L320.9,124.3M327.3,125.1L326.6,124.3M333.0,125.1L332.2,124.2M338.7,125.2L337.8,124.2M344.4,125.3L343.3,124.1M350.1,125.4L348.9,124.0M355.7,125.6L354.5,123.8M387.8,125.1L389.9,124.3M299.2,131.2L298.4,130.7M304.9,131.3L304.0,130.7M310.5,131.3L309.6,130.7M316.1,131.3L315.3,130.6M321.8,131.4L320.9,130.6M327.4,131.4L326.5,130.6M333.1,131.4L332.1,130.5M338.8,131.4L337.6,130.5M344.5,131.5L343.1,130.5M350.3,131.6L348.6,130.4M299.3,137.5L298.3,137.0M304.9,137.6L303.9,137.0M310.6,137.6L309.6,136.9M316.2,137.7L315.2,136.9M321.8,137.7L320.8,136.8M327.5,137.7L326.4,136.8M333.2,137.7L332.0,136.8M338.9,137.7L337.5,136.8M344.7,137.7L343.0,136.9M350.6,137.7L348.4,136.9M299.4,143.8L298.2,143.3M305.0,143.9L303.8,143.2M310.6,144.0L309.5,143.1M316.2,144.1L315.1,143.1M321.8,144.1L320.8,143.0M327.5,144.1L326.4,143.0M333.2,144.0L331.9,143.1M339.0,143.9L337.4,143.2M344.8,143.9L342.9,143.3M299.5,150.1L298.1,149.6M305.2,150.2L303.7,149.5M310.8,150.4L309.4,149.3M316.3,150.5L315.1,149.2M320.4,149.9L322.2,149.8M326.1,149.9L327.8,149.8M331.7,149.9L333.5,149.8M337.3,149.9L339.1,149.8M342.8,149.9L344.9,149.8M299.6,156.4L298.0,155.9M305.4,156.6L303.5,155.7M310.9,156.9L309.2,155.4M316.2,157.2L315.2,155.1M320.2,156.2L322.4,156.0M325.9,156.2L328.0,156.1M331.6,156.2L333.6,156.1M337.2,156.1L339.2,156.1M342.8,156.1L344.9,156.1M387.8,156.1L390.0,156.2M299.8,162.6L297.8,162.3M325.8,162.5L328.1,162.4M331.5,162.4L333.7,162.4M337.2,162.4L339.3,162.4M342.7,162.4L344.9,162.5M382.2,162.4L384.3,162.5M387.9,162.4L389.8,162.5M299.9,168.6L297.7,168.8M331.5,168.7L333.7,168.8M337.2,168.7L339.3,168.8M342.7,168.7L344.9,168.8M370.9,168.7L373.1,168.8M376.6,168.7L378.6,168.8M382.3,168.7L384.2,168.8M388.1,168.7L389.7,168.7M299.9,174.7L297.7,175.3M331.9,174.1L333.2,175.9M338.0,174.0L338.4,176.0M344.0,174.0L343.6,176.0M349.8,174.0L349.1,176.1M355.0,173.8L355.2,176.2M359.9,174.1L361.5,175.9M365.5,174.4L367.3,175.6M371.1,174.5L372.8,175.5M376.8,174.6L378.4,175.4M382.5,174.7L384.0,175.3M388.2,174.8L389.6,175.2M299.6,180.8L298.0,181.8M305.4,180.6L303.5,182.0M326.5,180.3L327.4,182.3M332.2,180.4L332.9,182.2M338.0,180.4L338.4,182.2M343.8,180.4L343.9,182.2M349.4,180.4L349.6,182.2M354.8,180.4L355.4,182.2M360.1,180.5L361.3,182.1M365.6,180.7L367.1,181.9M371.2,180.9L372.8,181.7M376.9,181.0L378.4,181.6M382.6,181.1L383.9,181.5M388.2,181.1L389.5,181.5M299.4,187.1L298.2,188.1M305.1,186.9L303.8,188.3M310.6,186.7L309.5,188.5M315.9,186.6L315.4,188.6M321.3,186.6L321.3,188.6M326.8,186.7L327.1,188.5M332.5,186.7L332.7,188.4M338.1,186.8L338.3,188.4M343.8,186.8L343.9,188.4M349.3,186.8L349.6,188.4M354.7,186.8L355.5,188.4M360.2,186.9L361.3,188.3M365.7,187.1L367.1,188.1M371.2,187.2L372.7,188.0M376.9,187.3L378.4,187.9M382.6,187.4L383.9,187.8M388.2,187.4L389.5,187.8M299.3,193.4L298.3,194.4M304.9,193.3L304.0,194.5M310.4,193.2L309.7,194.6M316.0,193.1L315.4,194.6M321.5,193.1L321.2,194.7M327.0,193.1L326.9,194.6M332.6,193.1L332.6,194.6M338.2,193.1L338.2,194.6M343.8,193.1L343.9,194.6M349.4,193.1L349.6,194.7M354.8,193.1L355.4,194.6M360.2,193.2L361.3,194.5M365.6,193.4L367.1,194.3M371.2,193.6L372.8,194.2M376.8,193.7L378.4,194.1M382.5,193.7L384.0,194.1M388.2,193.7L389.6,194.0M299.2,199.7L298.4,200.6M304.8,199.7L304.1,200.7M310.4,199.6L309.8,200.7M315.9,199.5L315.4,200.8M321.5,199.5L321.1,200.8M327.1,199.5L326.8,200.8M332.7,199.5L332.5,200.8M338.3,199.5L338.1,200.9M343.9,199.5L343.7,200.9M349.5,199.4L349.4,200.9M355.0,199.3L355.2,201.0M360.3,199.4L361.2,201.0M365.5,199.8L367.2,200.6M371.0,200.0L373.0,200.3M376.7,200.1L378.6,200.3M382.4,200.1L384.1,200.3M388.1,200.0L389.6,200.3M299.1,206.0L298.5,206.9M304.7,206.0L304.1,206.9M310.3,206.0L309.8,207.0M315.9,205.9L315.5,207.0M321.5,205.9L321.1,207.0M327.1,205.9L326.8,207.0M332.7,205.9L332.4,207.1M338.4,205.8L338.0,207.1M344.1,205.8L343.6,207.1M349.8,205.7L349.2,207.2M355.5,205.7L354.7,207.3M361.3,205.6L360.2,207.4M365.2,206.6L367.5,206.3M376.4,206.6L378.8,206.4M382.2,206.4L384.3,206.5M388.0,206.3L389.8,206.6M299.0,212.3L298.6,213.2M304.7,212.3L304.2,213.2M310.3,212.3L309.8,213.2M315.9,212.3L315.5,213.2M321.5,212.2L321.1,213.3M327.1,212.2L326.8,213.3M332.8,212.2L332.4,213.3M338.4,212.2L338.0,213.3M344.2,212.1L343.5,213.4M350.0,212.1L349.0,213.4M355.9,212.1L354.3,213.4M387.9,212.6L389.9,212.9M299.0,218.6L298.6,219.4M304.6,218.6L304.2,219.5M310.2,218.6L309.9,219.5M315.9,218.6L315.5,219.5M321.5,218.6L321.1,219.5M327.1,218.5L326.8,219.5M332.8,218.5L332.4,219.6M338.5,218.5L338.0,219.6M344.2,218.4L343.5,219.7M350.0,218.4L348.9,219.7M355.9,218.4L354.3,219.7M387.8,218.8L390.0,219.3M299.0,224.9L298.6,225.7M304.6,224.9L304.3,225.7M310.2,224.9L309.9,225.8M315.8,224.9L315.5,225.8M321.5,224.9L321.2,225.8M327.1,224.8L326.8,225.8M332.8,224.8L332.4,225.8M338.4,224.8L338.0,225.9M344.1,224.7L343.5,226.0M349.9,224.6L349.0,226.0M355.8,224.5L354.4,226.1M387.9,224.9L389.9,225.7M298.9,231.2L298.7,232.0M304.6,231.2L304.3,232.0M310.2,231.2L309.9,232.0M315.8,231.2L315.6,232.1M321.4,231.2L321.2,232.1M327.1,231.1L326.8,232.1M332.7,231.1L332.4,232.1M338.4,231.1L338.0,232.2M344.1,231.0L343.6,232.2M349.8,230.9L349.2,232.3M355.5,230.8L354.7,232.5M361.2,230.6L360.3,232.7M382.3,230.9L384.2,232.3M388.0,231.2L389.7,232.1M298.9,237.5L298.7,238.3M304.5,237.5L304.3,238.3M310.2,237.5L310.0,238.3M315.8,237.5L315.6,238.3M321.4,237.5L321.2,238.4M327.1,237.4L326.8,238.4M332.7,237.4L332.5,238.4M338.3,237.4L338.1,238.4M344.0,237.3L343.7,238.5M349.6,237.2L349.3,238.6M355.3,237.1L354.9,238.7M360.8,237.0L360.6,238.8M366.3,236.9L366.4,238.9M371.6,236.9L372.4,238.9M377.0,237.1L378.3,238.8M382.5,237.3L384.0,238.5M388.2,237.4L389.5,238.4" stroke="#fff" stroke-width="0.85" stroke-opacity="0.46" stroke-linecap="round" fill="none"/><path d="M361.3,125.9L360.1,123.5M366.5,126.2L366.2,123.2M371.4,126.2L372.6,123.2M376.5,125.8L378.7,123.6M382.1,125.4L384.4,124.0M356.2,131.7L354.0,130.2M362.0,132.1L359.4,129.9M367.5,132.7L365.2,129.2M371.5,133.3L372.4,128.7M375.9,132.3L379.3,129.7M381.6,131.6L384.9,130.3M387.6,131.3L390.2,130.6M356.5,137.7L353.7,136.8M362.6,137.8L358.8,136.7M368.9,138.1L363.8,136.4M372.5,139.9L371.5,134.6M375.0,138.0L380.2,136.6M381.2,137.6L385.3,137.0M387.4,137.4L390.4,137.1M350.7,143.8L348.3,143.4M356.6,143.6L353.6,143.5M362.7,143.3L358.8,143.8M368.8,142.6L363.9,144.5M372.1,140.9L371.9,146.3M375.1,142.7L380.2,144.4M381.2,143.3L385.3,143.8M387.4,143.5L390.4,143.7M348.3,149.8L350.7,149.9M353.6,149.8L356.6,149.9M359.0,149.8L362.5,149.9M364.3,149.6L368.4,150.1M369.8,149.5L374.2,150.2M375.5,149.7L379.7,150.0M381.5,149.8L385.0,149.9M387.5,149.8L390.2,149.9M348.3,156.1L350.7,156.1M353.7,156.1L356.5,156.2M359.2,156.0L362.3,156.3M364.7,156.0L368.0,156.3M370.3,156.0L373.7,156.3M376.1,156.0L379.2,156.2M381.9,156.1L384.6,156.2M305.7,162.8L303.2,162.1M311.2,163.4L308.9,161.5M315.5,164.0L315.9,160.9M319.9,162.5L322.7,162.4M348.2,162.4L350.7,162.4M353.7,162.4L356.5,162.4M359.3,162.4L362.2,162.5M364.9,162.4L367.8,162.5M370.6,162.3L373.3,162.5M376.4,162.4L378.9,162.5M305.9,168.7L302.9,168.7M312.0,169.2L308.2,168.3M313.9,169.5L317.5,167.9M319.7,168.7L322.9,168.7M325.7,168.7L328.2,168.7M348.2,168.7L350.7,168.8M353.7,168.7L356.5,168.8M359.3,168.7L362.1,168.8M365.1,168.7L367.6,168.8M305.8,174.5L303.1,175.5M311.5,173.9L308.6,176.1M314.8,173.4L316.6,176.7M320.1,174.1L322.6,175.9M326.0,174.2L327.9,175.8M310.8,180.2L309.3,182.4M315.7,179.9L315.6,182.7M320.9,180.1L321.8,182.5M370.8,206.8L373.2,206.2M361.9,212.4L359.5,213.1M367.7,213.4L365.0,212.1M371.0,214.1L373.0,211.4M376.1,213.1L379.1,212.4M382.0,212.7L384.5,212.8M362.0,218.5L359.4,219.6M368.2,219.0L364.5,219.1M372.4,221.1L371.6,217.0M375.7,219.1L379.6,218.9M381.8,218.8L384.7,219.2M361.7,224.4L359.7,226.2M367.7,224.2L365.0,226.5M371.9,223.2L372.0,227.4M376.0,224.4L379.2,226.3M381.9,224.8L384.6,225.9M366.7,230.3L366.0,233.0M371.6,230.2L372.4,233.1M376.7,230.6L378.6,232.7" stroke="#fff" stroke-width="0.75" stroke-opacity="0.85" stroke-linecap="round" fill="none"/>
<path d="M309.20,139.8 H360.70 V168.6 H353.90 V144.8 H315.70 V168.6 H309.20 Z" fill="#3d27b6"/>
<rect x="367.60" y="140.70" width="8.90" height="79.70" fill="#3d27b6" opacity="1.0"/>
<clipPath id="m2"><rect x="352.90" y="144.8" width="8.80" height="23.799999999999983"/></clipPath>
<g clip-path="url(#m2)"><path d="" stroke="#fff" stroke-width="0.85" stroke-opacity="0.46" stroke-linecap="round" fill="none"/><path d="M356.6,143.6L353.6,143.5M362.7,143.3L358.8,143.8M353.6,149.8L356.6,149.9M359.0,149.8L362.5,149.9M353.7,156.1L356.5,156.2M359.2,156.0L362.3,156.3M353.7,162.4L356.5,162.4M359.3,162.4L362.2,162.5M353.7,168.7L356.5,168.8M359.3,168.7L362.1,168.8" stroke="#fff" stroke-width="0.75" stroke-opacity="0.85" stroke-linecap="round" fill="none"/></g>
</g>
<text x="310.50" y="132.2" font-family='"Liberation Serif", serif' font-size="10.2" fill="#fff" text-anchor="middle">(g)</text>
<clipPath id="c3"><rect x="427.6" y="117.9" width="94.2" height="125.29999999999998"/></clipPath>
<g clip-path="url(#c3)">
<rect x="427.6" y="117.9" width="94.2" height="125.29999999999998" fill="#402ed3"/>
<g filter="url(#b5)"><rect x="470.80" y="128.50" width="48.60" height="50.00" fill="#4a78f8" opacity="0.9"/><rect x="485.80" y="191.40" width="29.60" height="40.00" fill="#4a80f8" opacity="0.9"/><rect x="426.90" y="149.80" width="32.30" height="52.00" fill="#4a80f8" opacity="0.95"/></g>
<g filter="url(#b3)"><path d="M444.20000000000005,144.0 L468.20000000000005,169.8 L444.20000000000005,169.8 Z" fill="#4a84f8" opacity="0.85"/><rect x="488.80" y="132.70" width="23.60" height="40.00" fill="#38a8e8" opacity="0.85"/><rect x="488.80" y="197.40" width="23.60" height="28.00" fill="#38a0ec" opacity="0.85"/></g>
<g filter="url(#b2)"><rect x="444.20" y="150.00" width="2.50" height="17.80" fill="#30a8e8" opacity="0.8"/><rect x="479.80" y="144.00" width="12.90" height="27.60" fill="#30b8d8" opacity="0.9"/><rect x="489.70" y="136.50" width="6.10" height="33.10" fill="#28c0c0" opacity="0.95"/><rect x="491.80" y="134.70" width="18.60" height="42.00" fill="#30b8d8" opacity="0.9"/><rect x="490.30" y="197.40" width="20.60" height="27.00" fill="#30b4e8" opacity="1"/></g>
<g filter="url(#b1)"><rect x="436.00" y="117.90" width="1.80" height="49.90" fill="#4094fa" opacity="1.0"/><rect x="436.00" y="167.80" width="1.70" height="75.40" fill="#4274ee" opacity="0.85"/><rect x="443.70" y="117.90" width="1.90" height="20.60" fill="#3c88f4" opacity="0.9"/><rect x="437.90" y="137.20" width="51.80" height="1.30" fill="#4090f8" opacity="0.8"/><rect x="444.40" y="163.80" width="1.50" height="79.40" fill="#4274ee" opacity="0.85"/><rect x="436.10" y="144.50" width="1.50" height="15.30" fill="#30b0e0" opacity="0.9"/><rect x="436.10" y="157.80" width="1.50" height="26.00" fill="#38d0a0" opacity="0.95"/><rect x="436.10" y="181.80" width="1.50" height="22.00" fill="#30b0e0" opacity="0.8"/><rect x="444.40" y="159.80" width="1.50" height="22.00" fill="#38d0a0" opacity="0.95"/><rect x="444.40" y="179.80" width="1.50" height="22.00" fill="#30b0e0" opacity="0.8"/><path d="M495.30,142.7 V139.2 H505.90 V142.7" fill="none" stroke="#a0d850" stroke-width="1.3" opacity="1.0"/><path d="M482.20,145.0 V169.2 H490.30 V139.5" fill="none" stroke="#38c8c8" stroke-width="1.1" opacity="1.0"/><circle cx="482.30" cy="169.00" r="1.0" fill="#e8d030" opacity="1.0"/><circle cx="490.20" cy="169.00" r="1.0" fill="#d0d840" opacity="1.0"/><circle cx="495.60" cy="139.50" r="1.0" fill="#f0d830" opacity="1.0"/><circle cx="505.60" cy="139.50" r="1.0" fill="#f0d830" opacity="1.0"/><rect x="490.30" y="136.50" width="4.90" height="32.10" fill="#30c0d0" opacity="0.85"/><path d="M495.30,217.9 V220.0 H505.90 V217.9" fill="none" stroke="#a8d850" stroke-width="1.3" opacity="1.0"/><circle cx="495.50" cy="219.80" r="1.0" fill="#f0e030" opacity="1.0"/><circle cx="505.70" cy="219.80" r="1.0" fill="#f0e030" opacity="1.0"/><path d="M495.20,191.4 V216.4 M506.00,191.4 V216.4" fill="none" stroke="#30c8d8" stroke-width="1.3" opacity="0.95"/><path d="M495.20,141.7 V173.7 M506.00,141.7 V173.7" fill="none" stroke="#30c8d0" stroke-width="1.3" opacity="0.95"/></g>
<path d="M428.1,118.5L427.3,118.3M433.7,118.6L432.9,118.2M439.4,118.6L438.6,118.2M445.0,118.6L444.2,118.2M450.6,118.6L449.8,118.2M456.3,118.7L455.4,118.1M461.9,118.7L461.0,118.1M467.6,118.8L466.6,118.0M473.3,118.9L472.2,117.9M479.0,119.0L477.8,117.8M484.6,119.2L483.4,117.6M490.0,119.5L489.2,117.3M511.2,119.0L513.1,117.8M516.9,118.8L518.7,118.0M428.1,124.8L427.3,124.6M433.8,124.8L432.9,124.6M439.4,124.8L438.5,124.5M445.0,124.9L444.1,124.5M450.7,124.9L449.8,124.5M456.3,124.9L455.4,124.5M462.0,124.9L460.9,124.4M467.7,125.0L466.5,124.4M473.4,125.1L472.0,124.3M479.2,125.2L477.5,124.2M428.1,131.1L427.3,130.9M433.8,131.1L432.9,130.9M439.4,131.1L438.5,130.9M445.1,131.1L444.1,130.8M450.7,131.1L449.7,130.8M456.4,131.1L455.3,130.8M462.1,131.2L460.9,130.8M467.8,131.2L466.4,130.8M473.6,131.2L471.9,130.7M479.4,131.3L477.3,130.6M428.2,137.3L427.2,137.2M433.8,137.4L432.9,137.2M439.4,137.4L438.5,137.2M445.1,137.4L444.1,137.1M450.7,137.4L449.7,137.1M456.4,137.4L455.3,137.2M462.1,137.4L460.8,137.2M467.9,137.4L466.4,137.2M473.7,137.4L471.8,137.2M479.6,137.4L477.2,137.1M428.2,143.6L427.2,143.5M433.8,143.6L432.8,143.5M439.5,143.7L438.4,143.5M444.0,143.6L445.1,143.6M449.6,143.6L450.8,143.6M455.2,143.6L456.5,143.6M460.8,143.6L462.1,143.6M466.3,143.6L467.9,143.6M471.8,143.6L473.7,143.6M477.2,143.5L479.5,143.6M428.2,149.9L427.2,149.8M433.9,149.9L432.8,149.8M439.5,150.0L438.4,149.7M444.0,149.9L445.2,149.8M449.6,149.9L450.8,149.8M455.2,149.9L456.5,149.8M460.8,149.8L462.2,149.9M466.4,149.8L467.9,149.9M471.9,149.8L473.6,149.9M477.3,149.8L479.4,149.9M428.3,156.2L427.1,156.1M434.0,156.3L432.7,156.0M439.6,156.3L438.3,156.0M443.9,156.2L445.3,156.1M449.5,156.1L450.9,156.1M455.2,156.1L456.5,156.1M460.8,156.1L462.2,156.1M466.4,156.1L467.8,156.2M471.9,156.1L473.6,156.2M477.4,156.1L479.3,156.2M482.9,156.1L485.1,156.2M516.7,156.1L518.9,156.2M428.4,162.5L427.0,162.4M434.1,162.6L432.6,162.3M439.7,162.8L438.2,162.1M443.8,162.5L445.4,162.4M449.4,162.4L451.0,162.4M455.1,162.4L456.6,162.4M460.8,162.4L462.2,162.4M466.4,162.4L467.8,162.5M472.0,162.4L473.5,162.5M477.5,162.4L479.2,162.5M483.1,162.4L484.9,162.5M488.6,162.3L490.7,162.6M494.2,162.3L496.4,162.6M499.7,162.3L502.0,162.5M505.4,162.3L507.6,162.5M511.1,162.4L513.2,162.5M516.9,162.4L518.7,162.5M428.5,168.7L426.9,168.7M434.2,168.9L432.4,168.6M439.8,169.3L438.1,168.2M443.6,168.8L445.6,168.7M449.3,168.7L451.1,168.7M455.1,168.7L456.6,168.7M460.8,168.7L462.2,168.7M466.4,168.7L467.8,168.8M472.0,168.7L473.4,168.8M477.6,168.7L479.1,168.8M483.2,168.7L484.8,168.8M488.8,168.6L490.5,168.8M494.4,168.6L496.1,168.8M500.0,168.7L501.8,168.8M505.6,168.7L507.4,168.8M511.3,168.7L513.0,168.8M517.0,168.7L518.5,168.7M428.5,174.9L426.9,175.2M434.3,174.9L432.3,175.1M440.1,175.1L437.8,174.9M443.4,175.0L445.8,175.1M449.3,174.7L451.1,175.4M455.3,174.4L456.4,175.6M461.4,174.3L461.6,175.7M467.2,174.3L467.0,175.7M472.9,174.4L472.6,175.7M478.5,174.3L478.3,175.7M484.0,174.3L484.0,175.7M489.4,174.3L489.9,175.7M494.8,174.4L495.7,175.6M500.3,174.5L501.5,175.5M505.9,174.6L507.2,175.4M511.5,174.7L512.8,175.3M517.1,174.8L518.4,175.2M428.4,181.0L427.0,181.6M434.2,180.9L432.5,181.7M439.6,180.4L438.3,182.2M444.2,180.3L444.9,182.3M449.7,180.5L450.7,182.1M455.6,180.6L456.1,182.0M461.4,180.6L461.5,182.0M467.2,180.6L467.0,182.0M472.9,180.7L472.6,181.9M478.4,180.6L478.3,182.0M483.9,180.6L484.1,182.0M489.3,180.7L490.0,181.9M494.7,180.8L495.8,181.8M500.3,180.9L501.5,181.7M505.9,181.0L507.2,181.6M511.5,181.1L512.8,181.5M517.2,181.1L518.4,181.5M428.3,187.2L427.1,188.0M433.9,187.1L432.7,188.1M439.4,186.9L438.5,188.3M444.8,186.8L444.4,188.4M450.2,186.8L450.2,188.4M455.9,186.9L455.8,188.3M461.6,186.9L461.4,188.3M467.3,187.0L467.0,188.2M472.9,187.0L472.6,188.2M478.5,186.9L478.2,188.2M483.9,186.9L484.1,188.3M489.2,187.0L490.0,188.2M494.6,187.2L495.9,188.0M500.2,187.3L501.6,187.8M505.8,187.4L507.2,187.8M511.5,187.4L512.8,187.8M517.1,187.4L518.4,187.7M428.1,193.5L427.3,194.3M433.8,193.4L432.9,194.4M439.3,193.3L438.6,194.5M444.9,193.2L444.3,194.5M450.4,193.2L450.0,194.5M456.0,193.3L455.7,194.5M461.7,193.3L461.3,194.5M467.4,193.3L466.9,194.5M473.0,193.3L472.4,194.5M478.7,193.3L478.0,194.5M484.2,193.2L483.8,194.6M489.2,193.2L490.0,194.6M494.4,193.7L496.1,194.1M500.0,193.8L501.7,193.9M505.7,193.8L507.4,193.9M511.4,193.8L512.9,194.0M517.1,193.8L518.5,194.0M428.1,199.8L427.3,200.6M433.7,199.7L433.0,200.6M439.3,199.7L438.6,200.7M444.9,199.6L444.3,200.7M450.5,199.6L450.0,200.7M456.1,199.6L455.6,200.7M461.8,199.6L461.2,200.7M467.5,199.6L466.8,200.7M473.2,199.7L472.3,200.7M478.9,199.7L477.8,200.7M484.7,199.8L483.3,200.6M490.6,200.1L488.7,200.2M494.4,200.8L496.1,199.5M499.9,200.5L501.9,199.8M505.5,200.3L507.5,200.0M511.2,200.2L513.1,200.2M517.0,200.1L518.6,200.2M428.0,206.1L427.4,206.9M433.6,206.0L433.0,206.9M439.2,206.0L438.7,206.9M444.9,206.0L444.3,206.9M450.5,206.0L449.9,206.9M456.1,206.0L455.6,206.9M461.8,206.0L461.1,206.9M467.5,206.0L466.7,206.9M473.3,206.0L472.2,206.9M479.1,206.1L477.6,206.9M485.0,206.2L483.0,206.7M490.8,206.7L488.5,206.2M511.0,206.6L513.3,206.4M516.8,206.4L518.8,206.5M428.0,212.4L427.4,213.1M433.6,212.3L433.1,213.2M439.2,212.3L438.7,213.2M444.8,212.3L444.3,213.2M450.5,212.3L449.9,213.2M456.2,212.3L455.5,213.2M461.8,212.3L461.1,213.2M467.6,212.3L466.7,213.2M473.3,212.3L472.1,213.2M479.2,212.3L477.6,213.2M485.1,212.5L482.9,213.0M516.7,212.6L518.9,212.9M427.9,218.7L427.5,219.4M433.6,218.6L433.1,219.4M439.2,218.6L438.7,219.4M444.8,218.6L444.4,219.5M450.5,218.6L450.0,219.5M456.1,218.6L455.6,219.5M461.8,218.6L461.1,219.5M467.5,218.6L466.7,219.5M473.3,218.5L472.2,219.5M479.2,218.5L477.6,219.5M427.9,224.9L427.5,225.7M433.5,224.9L433.1,225.7M439.2,224.9L438.8,225.7M444.8,224.9L444.4,225.7M450.5,224.9L450.0,225.8M456.1,224.9L455.6,225.8M461.8,224.9L461.2,225.8M467.5,224.8L466.7,225.8M473.3,224.8L472.2,225.9M479.1,224.7L477.7,225.9M484.9,224.6L483.1,226.0M516.7,224.9L518.9,225.7M427.9,231.2L427.5,232.0M433.5,231.2L433.2,232.0M439.1,231.2L438.8,232.0M444.8,231.2L444.4,232.0M450.4,231.2L450.0,232.0M456.1,231.2L455.6,232.1M461.7,231.1L461.2,232.1M467.4,231.1L466.8,232.1M473.1,231.0L472.3,232.2M478.9,230.9L477.9,232.3M484.6,230.8L483.4,232.5M516.9,231.1L518.7,232.1M427.8,237.5L427.6,238.3M433.5,237.5L433.2,238.3M439.1,237.5L438.8,238.3M444.7,237.5L444.4,238.3M450.4,237.5L450.1,238.3M456.0,237.5L455.7,238.4M461.7,237.4L461.3,238.4M467.3,237.4L466.9,238.4M473.0,237.3L472.5,238.5M478.7,237.2L478.1,238.6M484.3,237.1L483.7,238.7M489.9,236.9L489.4,238.9M495.2,236.8L495.3,239.0M500.5,236.8L501.3,239.0M505.9,237.0L507.2,238.8M511.4,237.2L512.9,238.6M517.1,237.4L518.5,238.4" stroke="#fff" stroke-width="0.85" stroke-opacity="0.46" stroke-linecap="round" fill="none"/><path d="M495.3,119.7L495.2,117.1M500.4,119.6L501.4,117.2M505.7,119.3L507.4,117.5M485.0,125.4L483.0,123.9M490.6,125.8L488.7,123.5M495.8,126.4L494.7,123.0M500.3,126.5L501.4,122.9M505.3,125.9L507.8,123.5M510.8,125.4L513.5,124.0M516.6,125.1L518.9,124.3M485.4,131.5L482.6,130.4M491.3,131.9L487.9,130.1M496.9,132.8L493.6,129.2M500.3,133.6L501.4,128.3M504.5,132.3L508.6,129.6M510.3,131.6L514.0,130.4M516.4,131.3L519.2,130.7M485.6,137.4L482.4,137.1M491.8,137.5L487.4,137.0M497.9,137.8L492.6,136.8M500.2,139.9L501.6,134.7M503.8,137.7L509.2,136.9M510.0,137.4L514.3,137.1M516.2,137.3L519.4,137.2M482.4,143.5L485.6,143.6M487.5,143.5L491.7,143.6M492.6,143.4L498.0,143.8M498.4,142.6L503.4,144.5M503.8,143.4L509.2,143.7M510.1,143.5L514.2,143.6M516.3,143.5L519.3,143.6M482.6,149.8L485.4,149.9M487.9,149.7L491.3,150.0M493.2,149.5L497.3,150.2M498.7,149.4L503.1,150.3M504.5,149.7L508.6,150.0M510.5,149.8L513.8,149.9M516.5,149.8L519.1,149.9M488.3,156.0L490.9,156.3M493.8,155.9L496.7,156.4M499.3,155.9L502.4,156.4M505.0,156.0L508.0,156.3M510.9,156.1L513.4,156.2M495.8,207.7L494.7,205.2M499.9,207.5L501.9,205.4M505.2,206.9L507.8,206.0M491.1,212.9L488.2,212.6M496.8,213.8L493.7,211.7M500.1,214.6L501.7,210.9M504.8,213.3L508.3,212.2M510.7,212.8L513.6,212.7M485.1,218.6L482.9,219.5M491.3,218.7L488.0,219.4M497.5,219.0L493.0,219.0M499.8,221.3L502.0,216.8M504.3,219.0L508.8,219.1M510.5,218.8L513.8,219.3M516.6,218.8L519.0,219.3M490.9,224.4L488.3,226.2M496.8,223.9L493.8,226.7M500.4,223.0L501.3,227.6M504.8,224.3L508.3,226.4M510.7,224.7L513.6,225.9M490.3,230.5L489.0,232.7M495.7,230.1L494.8,233.1M500.5,230.0L501.3,233.2M505.5,230.5L507.5,232.8M511.1,230.9L513.2,232.3" stroke="#fff" stroke-width="0.75" stroke-opacity="0.85" stroke-linecap="round" fill="none"/>
<rect x="437.90" y="117.90" width="6.30" height="125.30" fill="#3d27b6" opacity="0.35"/>
<path d="M437.90,138.5 H489.70 V168.6 H482.80 V144.0 H444.20 V167.8 H437.90 Z" fill="#3d27b6"/>
<rect x="495.80" y="139.70" width="9.60" height="79.70" fill="#3d27b6" opacity="1.0"/>
<clipPath id="m3"><rect x="481.80" y="144.0" width="8.90" height="24.599999999999994"/></clipPath>
<g clip-path="url(#m3)"><path d="M482.9,156.1L485.1,156.2M483.1,162.4L484.9,162.5M488.6,162.3L490.7,162.6M483.2,168.7L484.8,168.8M488.8,168.6L490.5,168.8" stroke="#fff" stroke-width="0.85" stroke-opacity="0.46" stroke-linecap="round" fill="none"/><path d="M482.4,143.5L485.6,143.6M487.5,143.5L491.7,143.6M482.6,149.8L485.4,149.9M487.9,149.7L491.3,150.0M488.3,156.0L490.9,156.3" stroke="#fff" stroke-width="0.75" stroke-opacity="0.85" stroke-linecap="round" fill="none"/></g>
</g>
<text x="445.60" y="132.2" font-family='"Liberation Serif", serif' font-size="10.2" fill="#fff" text-anchor="middle">(h)</text>
<rect x="526.3" y="121.1" width="9.0" height="116.4" fill="url(#par)" stroke="#777" stroke-width="0.5"/>
<text x="539.2" y="127.8" font-family='"Liberation Serif", serif' font-size="7.6" fill="#222">30</text>
<text x="539.2" y="164.7" font-family='"Liberation Serif", serif' font-size="7.6" fill="#222">20</text>
<text x="539.2" y="201.8" font-family='"Liberation Serif", serif' font-size="7.6" fill="#222">10</text>
<text x="539.2" y="238.8" font-family='"Liberation Serif", serif' font-size="7.6" fill="#222">0</text>
</svg>
</body></html>
